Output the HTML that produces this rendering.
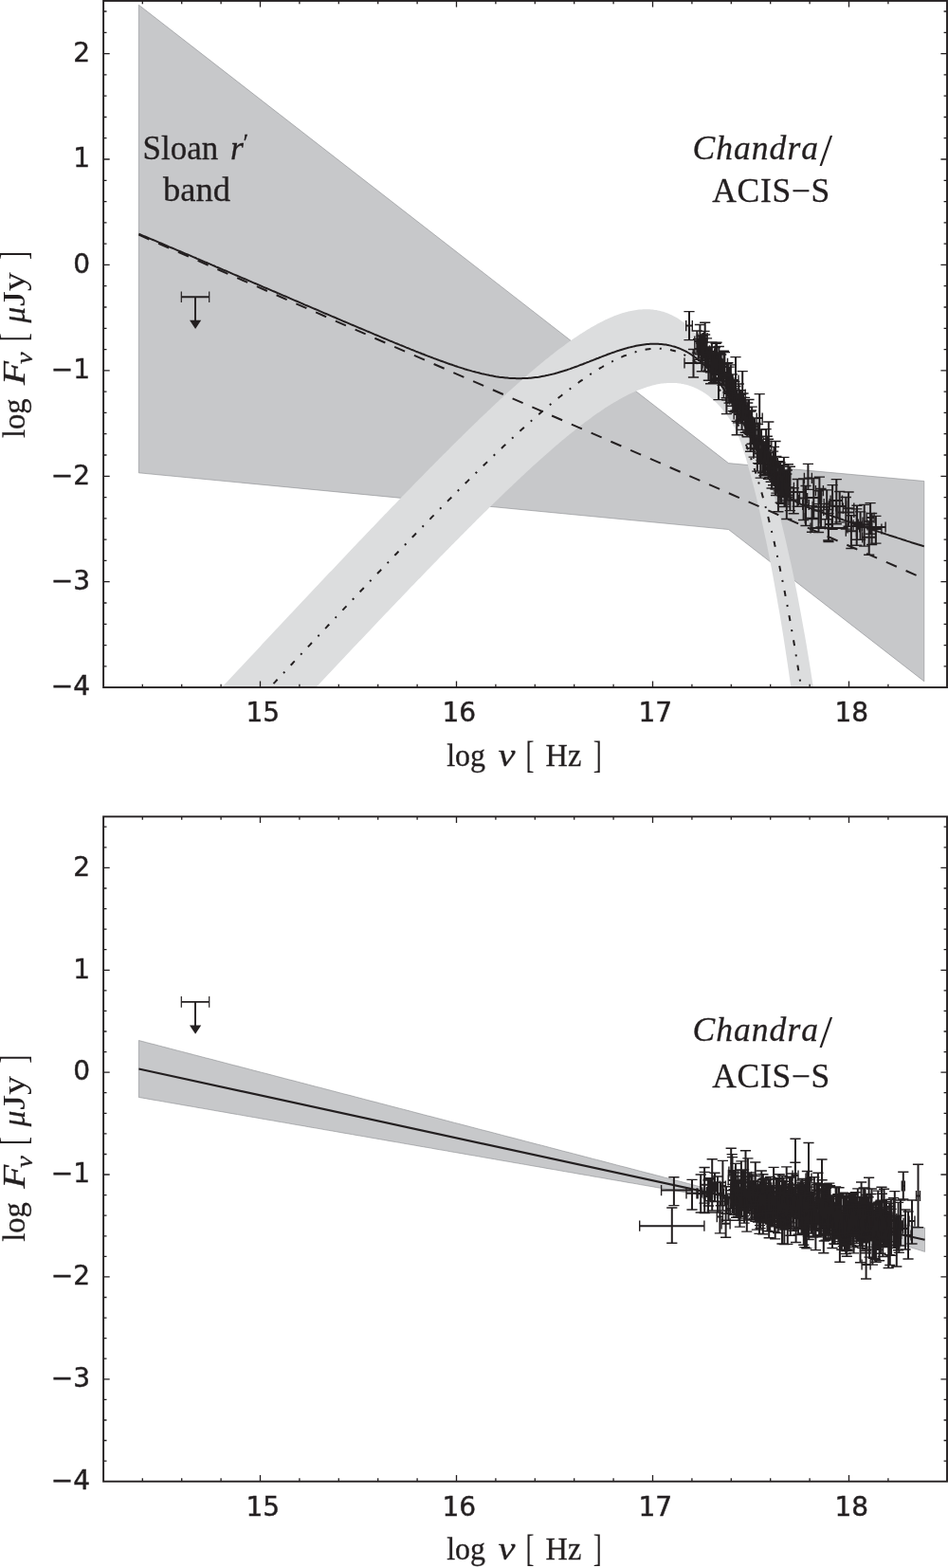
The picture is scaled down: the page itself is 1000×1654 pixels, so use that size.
<!DOCTYPE html>
<html lang="en"><head><meta charset="utf-8"><title>SED</title>
<style>
html,body{margin:0;padding:0;background:#fff}
svg{display:block}
.tk{font-family:"DejaVu Sans",sans-serif;font-size:28px;fill:#231f20;stroke:#231f20;stroke-width:0.45px}
.ax{font-family:"Liberation Serif","DejaVu Serif",serif;font-size:33px;fill:#231f20;stroke:#231f20;stroke-width:0.3px}
.an{font-family:"Liberation Serif","DejaVu Serif",serif;font-size:35.5px;fill:#231f20;stroke:#231f20;stroke-width:0.3px}
.br{stroke-width:0}
</style></head><body>
<svg width="1000" height="1654" viewBox="0 0 1000 1654">
<rect width="1000" height="1654" fill="#fff"/>
<defs><clipPath id="ct"><rect x="109.1" y="0.9" width="889.9" height="724.2"/></clipPath><clipPath id="cb"><rect x="109.1" y="861.4" width="889.9" height="701.3000000000001"/></clipPath></defs>
<g clip-path="url(#ct)">
<polygon points="146.4,5.2 768.5,488.6 974.8,507.5 974.8,718.7 768.5,558.5 146.4,498.8" fill="#c7c8ca" stroke="#8a8c8e" stroke-width="0.6"/>
<polygon points="191.7,770.5 193.1,769.0 194.5,767.5 195.9,765.9 197.3,764.4 198.8,762.9 200.2,761.4 201.6,759.9 203.0,758.4 204.4,756.9 205.8,755.4 207.2,753.8 208.6,752.3 210.0,750.8 211.4,749.3 212.9,747.8 214.3,746.3 215.7,744.8 217.1,743.3 218.5,741.7 219.9,740.2 221.3,738.7 222.7,737.2 224.1,735.7 225.6,734.2 227.0,732.7 228.4,731.2 229.8,729.6 231.2,728.1 232.6,726.6 234.0,725.1 235.4,723.6 236.8,722.1 238.2,720.6 239.7,719.1 241.1,717.6 242.5,716.1 243.9,714.5 245.3,713.0 246.7,711.5 248.1,710.0 249.5,708.5 250.9,707.0 252.3,705.5 253.8,704.0 255.2,702.5 256.6,701.0 258.0,699.4 259.4,697.9 260.8,696.4 262.2,694.9 263.6,693.4 265.0,691.9 266.5,690.4 267.9,688.9 269.3,687.4 270.7,685.9 272.1,684.4 273.5,682.9 274.9,681.4 276.3,679.8 277.7,678.3 279.1,676.8 280.6,675.3 282.0,673.8 283.4,672.3 284.8,670.8 286.2,669.3 287.6,667.8 289.0,666.3 290.4,664.8 291.8,663.3 293.3,661.8 294.7,660.3 296.1,658.8 297.5,657.3 298.9,655.8 300.3,654.3 301.7,652.8 303.1,651.3 304.5,649.8 305.9,648.3 307.4,646.8 308.8,645.3 310.2,643.8 311.6,642.3 313.0,640.8 314.4,639.3 315.8,637.8 317.2,636.3 318.6,634.8 320.0,633.3 321.5,631.8 322.9,630.3 324.3,628.8 325.7,627.3 327.1,625.8 328.5,624.3 329.9,622.8 331.3,621.3 332.7,619.8 334.2,618.3 335.6,616.8 337.0,615.3 338.4,613.8 339.8,612.3 341.2,610.8 342.6,609.3 344.0,607.8 345.4,606.3 346.8,604.8 348.3,603.3 349.7,601.9 351.1,600.4 352.5,598.9 353.9,597.4 355.3,595.9 356.7,594.4 358.1,592.9 359.5,591.4 361.0,589.9 362.4,588.4 363.8,587.0 365.2,585.5 366.6,584.0 368.0,582.5 369.4,581.0 370.8,579.5 372.2,578.0 373.6,576.6 375.1,575.1 376.5,573.6 377.9,572.1 379.3,570.6 380.7,569.2 382.1,567.7 383.5,566.2 384.9,564.7 386.3,563.2 387.7,561.8 389.2,560.3 390.6,558.8 392.0,557.3 393.4,555.9 394.8,554.4 396.2,552.9 397.6,551.4 399.0,550.0 400.4,548.5 401.9,547.0 403.3,545.6 404.7,544.1 406.1,542.6 407.5,541.2 408.9,539.7 410.3,538.2 411.7,536.8 413.1,535.3 414.5,533.8 416.0,532.4 417.4,530.9 418.8,529.5 420.2,528.0 421.6,526.5 423.0,525.1 424.4,523.6 425.8,522.2 427.2,520.7 428.7,519.3 430.1,517.8 431.5,516.4 432.9,514.9 434.3,513.5 435.7,512.0 437.1,510.6 438.5,509.1 439.9,507.7 441.3,506.2 442.8,504.8 444.2,503.4 445.6,501.9 447.0,500.5 448.4,499.0 449.8,497.6 451.2,496.2 452.6,494.7 454.0,493.3 455.4,491.9 456.9,490.5 458.3,489.0 459.7,487.6 461.1,486.2 462.5,484.8 463.9,483.3 465.3,481.9 466.7,480.5 468.1,479.1 469.6,477.7 471.0,476.3 472.4,474.9 473.8,473.5 475.2,472.0 476.6,470.6 478.0,469.2 479.4,467.8 480.8,466.4 482.2,465.0 483.7,463.6 485.1,462.3 486.5,460.9 487.9,459.5 489.3,458.1 490.7,456.7 492.1,455.3 493.5,453.9 494.9,452.6 496.4,451.2 497.8,449.8 499.2,448.4 500.6,447.1 502.0,445.7 503.4,444.4 504.8,443.0 506.2,441.6 507.6,440.3 509.0,438.9 510.5,437.6 511.9,436.2 513.3,434.9 514.7,433.6 516.1,432.2 517.5,430.9 518.9,429.5 520.3,428.2 521.7,426.9 523.1,425.6 524.6,424.3 526.0,422.9 527.4,421.6 528.8,420.3 530.2,419.0 531.6,417.7 533.0,416.4 534.4,415.1 535.8,413.8 537.3,412.6 538.7,411.3 540.1,410.0 541.5,408.7 542.9,407.5 544.3,406.2 545.7,404.9 547.1,403.7 548.5,402.4 549.9,401.2 551.4,399.9 552.8,398.7 554.2,397.5 555.6,396.2 557.0,395.0 558.4,393.8 559.8,392.6 561.2,391.4 562.6,390.2 564.1,389.0 565.5,387.8 566.9,386.6 568.3,385.4 569.7,384.3 571.1,383.1 572.5,381.9 573.9,380.8 575.3,379.6 576.7,378.5 578.2,377.4 579.6,376.2 581.0,375.1 582.4,374.0 583.8,372.9 585.2,371.8 586.6,370.7 588.0,369.6 589.4,368.6 590.8,367.5 592.3,366.4 593.7,365.4 595.1,364.4 596.5,363.3 597.9,362.3 599.3,361.3 600.7,360.3 602.1,359.3 603.5,358.3 605.0,357.3 606.4,356.3 607.8,355.4 609.2,354.4 610.6,353.5 612.0,352.6 613.4,351.7 614.8,350.8 616.2,349.9 617.6,349.0 619.1,348.1 620.5,347.3 621.9,346.4 623.3,345.6 624.7,344.8 626.1,344.0 627.5,343.2 628.9,342.4 630.3,341.6 631.8,340.9 633.2,340.1 634.6,339.4 636.0,338.7 637.4,338.0 638.8,337.3 640.2,336.7 641.6,336.0 643.0,335.4 644.4,334.8 645.9,334.2 647.3,333.6 648.7,333.1 650.1,332.5 651.5,332.0 652.9,331.5 654.3,331.0 655.7,330.6 657.1,330.1 658.5,329.7 660.0,329.3 661.4,329.0 662.8,328.6 664.2,328.3 665.6,328.0 667.0,327.7 668.4,327.4 669.8,327.2 671.2,327.0 672.7,326.8 674.1,326.6 675.5,326.5 676.9,326.4 678.3,326.3 679.7,326.2 681.1,326.2 682.5,326.2 683.9,326.3 685.3,326.3 686.8,326.4 688.2,326.5 689.6,326.7 691.0,326.9 692.4,327.1 693.8,327.4 695.2,327.7 696.6,328.0 698.0,328.4 699.5,328.8 700.9,329.2 702.3,329.7 703.7,330.2 705.1,330.8 706.5,331.4 707.9,332.0 709.3,332.7 710.7,333.4 712.1,334.2 713.6,335.0 715.0,335.8 716.4,336.7 717.8,337.7 719.2,338.7 720.6,339.7 722.0,340.8 723.4,342.0 724.8,343.2 726.2,344.4 727.7,345.7 729.1,347.1 730.5,348.5 731.9,349.9 733.3,351.4 734.7,353.0 736.1,354.7 737.5,356.3 738.9,358.1 740.4,359.9 741.8,361.7 743.2,363.7 744.6,365.6 746.0,367.7 747.4,369.8 748.8,371.9 750.2,374.1 751.6,376.4 753.0,378.7 754.5,381.0 755.9,383.4 757.3,385.8 758.7,388.3 760.1,390.8 761.5,393.3 762.9,395.8 764.3,398.3 765.7,400.8 767.2,403.4 768.6,405.9 770.0,408.4 771.4,411.0 772.8,413.5 774.2,416.0 775.6,418.6 777.0,421.2 778.4,423.8 779.8,426.5 781.3,429.2 782.7,431.9 784.1,434.7 785.5,437.6 786.9,440.5 788.3,443.5 789.7,446.6 791.1,449.8 792.5,453.0 793.9,456.3 795.4,459.7 796.8,463.2 798.2,466.8 799.6,470.5 801.0,474.3 802.4,478.1 803.8,482.1 805.2,486.2 806.6,490.3 808.1,494.6 809.5,498.9 810.9,503.4 812.3,508.0 813.7,512.6 815.1,517.4 816.5,522.3 817.9,527.4 819.3,532.5 820.7,537.7 822.2,543.1 823.6,548.6 825.0,554.2 826.4,559.9 827.8,565.8 829.2,571.8 830.6,577.9 832.0,584.2 833.4,590.6 834.9,597.1 836.3,603.7 837.7,610.6 839.1,617.5 840.5,624.6 841.9,631.8 843.3,639.2 844.7,646.8 846.1,654.5 847.5,662.3 849.0,670.4 850.4,678.6 851.8,686.9 853.2,695.4 854.6,704.1 856.0,713.0 857.4,722.0 858.8,731.2 860.2,740.6 861.6,750.2 863.1,760.0 864.5,769.9 865.9,780.1 867.3,790.4 868.7,801.0 870.1,811.8 871.5,822.7 872.9,833.9 874.3,845.3 875.8,856.9 877.2,868.7 878.6,880.7 880.0,893.0 881.4,905.5 882.8,918.2 884.2,931.2 885.6,944.4 887.0,957.8 888.4,971.5 889.9,985.5 891.3,999.7 892.7,1014.2 894.1,1028.9 895.5,1043.9 895.5,1382.0 894.1,1360.5 892.7,1339.3 891.3,1318.4 889.9,1298.0 888.4,1277.8 887.0,1258.1 885.6,1238.6 884.2,1219.5 882.8,1200.8 881.4,1182.4 880.0,1164.2 878.6,1146.5 877.2,1129.0 875.8,1111.8 874.3,1094.9 872.9,1078.4 871.5,1062.1 870.1,1046.1 868.7,1030.4 867.3,1015.0 865.9,999.8 864.5,985.0 863.1,970.3 861.6,956.0 860.2,941.9 858.8,928.1 857.4,914.5 856.0,901.2 854.6,888.1 853.2,875.2 851.8,862.6 850.4,850.2 849.0,838.0 847.5,826.1 846.1,814.4 844.7,802.9 843.3,791.6 841.9,780.6 840.5,769.7 839.1,759.0 837.7,748.6 836.3,738.3 834.9,728.3 833.4,718.4 832.0,708.7 830.6,699.2 829.2,689.9 827.8,680.8 826.4,671.8 825.0,663.1 823.6,654.4 822.2,646.0 820.7,637.7 819.3,629.6 817.9,621.7 816.5,613.9 815.1,606.3 813.7,598.8 812.3,591.5 810.9,584.3 809.5,577.3 808.1,570.4 806.6,563.7 805.2,557.1 803.8,550.6 802.4,544.3 801.0,538.1 799.6,532.0 798.2,526.1 796.8,520.3 795.4,514.7 793.9,509.1 792.5,503.7 791.1,498.5 789.7,493.4 788.3,488.4 786.9,483.6 785.5,479.0 784.1,474.5 782.7,470.3 781.3,466.3 779.8,462.5 778.4,459.0 777.0,455.8 775.6,452.7 774.2,449.9 772.8,447.3 771.4,444.9 770.0,442.6 768.6,440.5 767.2,438.4 765.7,436.5 764.3,434.6 762.9,432.9 761.5,431.2 760.1,429.6 758.7,428.0 757.3,426.5 755.9,425.1 754.5,423.7 753.0,422.4 751.6,421.1 750.2,419.9 748.8,418.7 747.4,417.6 746.0,416.6 744.6,415.6 743.2,414.6 741.8,413.7 740.4,412.8 738.9,412.0 737.5,411.2 736.1,410.5 734.7,409.8 733.3,409.2 731.9,408.6 730.5,408.0 729.1,407.5 727.7,407.0 726.2,406.5 724.8,406.1 723.4,405.8 722.0,405.4 720.6,405.1 719.2,404.9 717.8,404.6 716.4,404.4 715.0,404.3 713.6,404.1 712.1,404.0 710.7,404.0 709.3,403.9 707.9,403.9 706.5,403.9 705.1,404.0 703.7,404.1 702.3,404.2 700.9,404.3 699.5,404.4 698.0,404.6 696.6,404.8 695.2,405.1 693.8,405.3 692.4,405.6 691.0,405.9 689.6,406.2 688.2,406.6 686.8,407.0 685.3,407.4 683.9,407.8 682.5,408.2 681.1,408.7 679.7,409.2 678.3,409.7 676.9,410.2 675.5,410.7 674.1,411.3 672.7,411.8 671.2,412.4 669.8,413.0 668.4,413.7 667.0,414.3 665.6,414.9 664.2,415.6 662.8,416.3 661.4,417.0 660.0,417.7 658.5,418.5 657.1,419.2 655.7,420.0 654.3,420.8 652.9,421.5 651.5,422.4 650.1,423.2 648.7,424.0 647.3,424.8 645.9,425.7 644.4,426.6 643.0,427.4 641.6,428.3 640.2,429.2 638.8,430.1 637.4,431.1 636.0,432.0 634.6,432.9 633.2,433.9 631.8,434.9 630.3,435.8 628.9,436.8 627.5,437.8 626.1,438.8 624.7,439.8 623.3,440.9 621.9,441.9 620.5,442.9 619.1,444.0 617.6,445.0 616.2,446.1 614.8,447.2 613.4,448.3 612.0,449.4 610.6,450.4 609.2,451.6 607.8,452.7 606.4,453.8 605.0,454.9 603.5,456.0 602.1,457.2 600.7,458.3 599.3,459.5 597.9,460.6 596.5,461.8 595.1,463.0 593.7,464.1 592.3,465.3 590.8,466.5 589.4,467.7 588.0,468.9 586.6,470.1 585.2,471.3 583.8,472.5 582.4,473.8 581.0,475.0 579.6,476.2 578.2,477.5 576.7,478.7 575.3,479.9 573.9,481.2 572.5,482.4 571.1,483.7 569.7,485.0 568.3,486.2 566.9,487.5 565.5,488.8 564.1,490.1 562.6,491.3 561.2,492.6 559.8,493.9 558.4,495.2 557.0,496.5 555.6,497.8 554.2,499.1 552.8,500.4 551.4,501.8 549.9,503.1 548.5,504.4 547.1,505.7 545.7,507.0 544.3,508.4 542.9,509.7 541.5,511.1 540.1,512.4 538.7,513.7 537.3,515.1 535.8,516.4 534.4,517.8 533.0,519.1 531.6,520.5 530.2,521.8 528.8,523.2 527.4,524.6 526.0,525.9 524.6,527.3 523.1,528.7 521.7,530.1 520.3,531.4 518.9,532.8 517.5,534.2 516.1,535.6 514.7,537.0 513.3,538.4 511.9,539.7 510.5,541.1 509.0,542.5 507.6,543.9 506.2,545.3 504.8,546.7 503.4,548.1 502.0,549.5 500.6,550.9 499.2,552.3 497.8,553.8 496.4,555.2 494.9,556.6 493.5,558.0 492.1,559.4 490.7,560.8 489.3,562.3 487.9,563.7 486.5,565.1 485.1,566.5 483.7,567.9 482.2,569.4 480.8,570.8 479.4,572.2 478.0,573.7 476.6,575.1 475.2,576.5 473.8,578.0 472.4,579.4 471.0,580.8 469.6,582.3 468.1,583.7 466.7,585.2 465.3,586.6 463.9,588.1 462.5,589.5 461.1,591.0 459.7,592.4 458.3,593.8 456.9,595.3 455.4,596.7 454.0,598.2 452.6,599.7 451.2,601.1 449.8,602.6 448.4,604.0 447.0,605.5 445.6,606.9 444.2,608.4 442.8,609.9 441.3,611.3 439.9,612.8 438.5,614.2 437.1,615.7 435.7,617.2 434.3,618.6 432.9,620.1 431.5,621.6 430.1,623.0 428.7,624.5 427.2,626.0 425.8,627.5 424.4,628.9 423.0,630.4 421.6,631.9 420.2,633.3 418.8,634.8 417.4,636.3 416.0,637.8 414.5,639.2 413.1,640.7 411.7,642.2 410.3,643.7 408.9,645.2 407.5,646.6 406.1,648.1 404.7,649.6 403.3,651.1 401.9,652.6 400.4,654.0 399.0,655.5 397.6,657.0 396.2,658.5 394.8,660.0 393.4,661.5 392.0,663.0 390.6,664.4 389.2,665.9 387.7,667.4 386.3,668.9 384.9,670.4 383.5,671.9 382.1,673.4 380.7,674.9 379.3,676.3 377.9,677.8 376.5,679.3 375.1,680.8 373.6,682.3 372.2,683.8 370.8,685.3 369.4,686.8 368.0,688.3 366.6,689.8 365.2,691.3 363.8,692.8 362.4,694.3 361.0,695.8 359.5,697.3 358.1,698.7 356.7,700.2 355.3,701.7 353.9,703.2 352.5,704.7 351.1,706.2 349.7,707.7 348.3,709.2 346.8,710.7 345.4,712.2 344.0,713.7 342.6,715.2 341.2,716.7 339.8,718.2 338.4,719.7 337.0,721.2 335.6,722.7 334.2,724.2 332.7,725.7 331.3,727.2 329.9,728.7 328.5,730.2 327.1,731.7 325.7,733.2 324.3,734.8 322.9,736.3 321.5,737.8 320.0,739.3 318.6,740.8 317.2,742.3 315.8,743.8 314.4,745.3 313.0,746.8 311.6,748.3 310.2,749.8 308.8,751.3 307.4,752.8 305.9,754.3 304.5,755.8 303.1,757.3 301.7,758.8 300.3,760.3 298.9,761.8 297.5,763.4 296.1,764.9 294.7,766.4 293.3,767.9 291.8,769.4 290.4,770.9 289.0,772.4 287.6,773.9 286.2,775.4 284.8,776.9 283.4,778.4 282.0,779.9 280.6,781.4 279.1,783.0 277.7,784.5 276.3,786.0 274.9,787.5 273.5,789.0 272.1,790.5 270.7,792.0 269.3,793.5 267.9,795.0 266.5,796.5 265.0,798.1 263.6,799.6 262.2,801.1 260.8,802.6 259.4,804.1 258.0,805.6 256.6,807.1 255.2,808.6 253.8,810.1 252.3,811.7 250.9,813.2 249.5,814.7 248.1,816.2 246.7,817.7 245.3,819.2 243.9,820.7 242.5,822.2 241.1,823.8 239.7,825.3 238.2,826.8 236.8,828.3 235.4,829.8 234.0,831.3 232.6,832.8 231.2,834.3 229.8,835.9 228.4,837.4 227.0,838.9 225.6,840.4 224.1,841.9 222.7,843.4 221.3,844.9 219.9,846.4 218.5,848.0 217.1,849.5 215.7,851.0 214.3,852.5 212.9,854.0 211.4,855.5 210.0,857.0 208.6,858.6 207.2,860.1 205.8,861.6 204.4,863.1 203.0,864.6 201.6,866.1 200.2,867.6 198.8,869.2 197.3,870.7 195.9,872.2 194.5,873.7 193.1,875.2 191.7,876.7" fill="#dcddde"/>
<line x1="146.4" y1="247.7" x2="974.8" y2="610.4" stroke="#231f20" stroke-width="2" stroke-dasharray="12 10.65"/>
<polyline points="283.2,726.8 284.2,725.8 285.1,724.8 286.1,723.7 287.1,722.7 288.0,721.7 289.0,720.6 290.0,719.6 290.9,718.6 291.9,717.5 292.9,716.5 293.9,715.5 294.8,714.4 295.8,713.4 296.8,712.4 297.7,711.3 298.7,710.3 299.7,709.3 300.6,708.2 301.6,707.2 302.6,706.2 303.5,705.1 304.5,704.1 305.5,703.1 306.4,702.0 307.4,701.0 308.4,700.0 309.3,698.9 310.3,697.9 311.3,696.9 312.2,695.8 313.2,694.8 314.2,693.8 315.1,692.7 316.1,691.7 317.1,690.7 318.0,689.7 319.0,688.6 320.0,687.6 320.9,686.6 321.9,685.5 322.9,684.5 323.8,683.5 324.8,682.4 325.8,681.4 326.8,680.4 327.7,679.4 328.7,678.3 329.7,677.3 330.6,676.3 331.6,675.2 332.6,674.2 333.5,673.2 334.5,672.2 335.5,671.1 336.4,670.1 337.4,669.1 338.4,668.1 339.3,667.0 340.3,666.0 341.3,665.0 342.2,663.9 343.2,662.9 344.2,661.9 345.1,660.9 346.1,659.8 347.1,658.8 348.0,657.8 349.0,656.8 350.0,655.7 350.9,654.7 351.9,653.7 352.9,652.7 353.8,651.6 354.8,650.6 355.8,649.6 356.7,648.6 357.7,647.5 358.7,646.5 359.6,645.5 360.6,644.5 361.6,643.4 362.6,642.4 363.5,641.4 364.5,640.4 365.5,639.4 366.4,638.3 367.4,637.3 368.4,636.3 369.3,635.3 370.3,634.2 371.3,633.2 372.2,632.2 373.2,631.2 374.2,630.2 375.1,629.1 376.1,628.1 377.1,627.1 378.0,626.1 379.0,625.1 380.0,624.0 380.9,623.0 381.9,622.0 382.9,621.0 383.8,620.0 384.8,618.9 385.8,617.9 386.7,616.9 387.7,615.9 388.7,614.9 389.6,613.9 390.6,612.8 391.6,611.8 392.5,610.8 393.5,609.8 394.5,608.8 395.5,607.8 396.4,606.8 397.4,605.7 398.4,604.7 399.3,603.7 400.3,602.7 401.3,601.7 402.2,600.7 403.2,599.7 404.2,598.7 405.1,597.6 406.1,596.6 407.1,595.6 408.0,594.6 409.0,593.6 410.0,592.6 410.9,591.6 411.9,590.6 412.9,589.6 413.8,588.6 414.8,587.5 415.8,586.5 416.7,585.5 417.7,584.5 418.7,583.5 419.6,582.5 420.6,581.5 421.6,580.5 422.5,579.5 423.5,578.5 424.5,577.5 425.4,576.5 426.4,575.5 427.4,574.5 428.4,573.5 429.3,572.5 430.3,571.5 431.3,570.5 432.2,569.5 433.2,568.5 434.2,567.5 435.1,566.5 436.1,565.5 437.1,564.5 438.0,563.5 439.0,562.5 440.0,561.5 440.9,560.5 441.9,559.5 442.9,558.5 443.8,557.5 444.8,556.5 445.8,555.5 446.7,554.5 447.7,553.5 448.7,552.5 449.6,551.5 450.6,550.5 451.6,549.6 452.5,548.6 453.5,547.6 454.5,546.6 455.4,545.6 456.4,544.6 457.4,543.6 458.3,542.6 459.3,541.6 460.3,540.7 461.2,539.7 462.2,538.7 463.2,537.7 464.2,536.7 465.1,535.7 466.1,534.8 467.1,533.8 468.0,532.8 469.0,531.8 470.0,530.8 470.9,529.9 471.9,528.9 472.9,527.9 473.8,526.9 474.8,526.0 475.8,525.0 476.7,524.0 477.7,523.0 478.7,522.1 479.6,521.1 480.6,520.1 481.6,519.2 482.5,518.2 483.5,517.2 484.5,516.3 485.4,515.3 486.4,514.3 487.4,513.4 488.3,512.4 489.3,511.4 490.3,510.5 491.2,509.5 492.2,508.6 493.2,507.6 494.1,506.6 495.1,505.7 496.1,504.7 497.1,503.8 498.0,502.8 499.0,501.9 500.0,500.9 500.9,500.0 501.9,499.0 502.9,498.1 503.8,497.1 504.8,496.2 505.8,495.2 506.7,494.3 507.7,493.3 508.7,492.4 509.6,491.4 510.6,490.5 511.6,489.6 512.5,488.6 513.5,487.7 514.5,486.8 515.4,485.8 516.4,484.9 517.4,484.0 518.3,483.0 519.3,482.1 520.3,481.2 521.2,480.2 522.2,479.3 523.2,478.4 524.1,477.5 525.1,476.5 526.1,475.6 527.0,474.7 528.0,473.8 529.0,472.9 529.9,472.0 530.9,471.0 531.9,470.1 532.9,469.2 533.8,468.3 534.8,467.4 535.8,466.5 536.7,465.6 537.7,464.7 538.7,463.8 539.6,462.9 540.6,462.0 541.6,461.1 542.5,460.2 543.5,459.3 544.5,458.4 545.4,457.5 546.4,456.7 547.4,455.8 548.3,454.9 549.3,454.0 550.3,453.1 551.2,452.2 552.2,451.4 553.2,450.5 554.1,449.6 555.1,448.8 556.1,447.9 557.0,447.0 558.0,446.2 559.0,445.3 559.9,444.4 560.9,443.6 561.9,442.7 562.8,441.9 563.8,441.0 564.8,440.2 565.8,439.3 566.7,438.5 567.7,437.6 568.7,436.8 569.6,436.0 570.6,435.1 571.6,434.3 572.5,433.5 573.5,432.6 574.5,431.8 575.4,431.0 576.4,430.2 577.4,429.4 578.3,428.6 579.3,427.7 580.3,426.9 581.2,426.1 582.2,425.3 583.2,424.5 584.1,423.7 585.1,422.9 586.1,422.2 587.0,421.4 588.0,420.6 589.0,419.8 589.9,419.0 590.9,418.3 591.9,417.5 592.8,416.7 593.8,415.9 594.8,415.2 595.7,414.4 596.7,413.7 597.7,412.9 598.7,412.2 599.6,411.4 600.6,410.7 601.6,410.0 602.5,409.2 603.5,408.5 604.5,407.8 605.4,407.1 606.4,406.3 607.4,405.6 608.3,404.9 609.3,404.2 610.3,403.5 611.2,402.8 612.2,402.1 613.2,401.4 614.1,400.8 615.1,400.1 616.1,399.4 617.0,398.7 618.0,398.1 619.0,397.4 619.9,396.8 620.9,396.1 621.9,395.5 622.8,394.8 623.8,394.2 624.8,393.6 625.7,392.9 626.7,392.3 627.7,391.7 628.6,391.1 629.6,390.5 630.6,389.9 631.5,389.3 632.5,388.7 633.5,388.1 634.5,387.5 635.4,387.0 636.4,386.4 637.4,385.9 638.3,385.3 639.3,384.8 640.3,384.2 641.2,383.7 642.2,383.2 643.2,382.7 644.1,382.1 645.1,381.6 646.1,381.1 647.0,380.6 648.0,380.2 649.0,379.7 649.9,379.2 650.9,378.8 651.9,378.3 652.8,377.9 653.8,377.4 654.8,377.0 655.7,376.6 656.7,376.2 657.7,375.7 658.6,375.3 659.6,375.0 660.6,374.6 661.5,374.2 662.5,373.8 663.5,373.5 664.4,373.1 665.4,372.8 666.4,372.5 667.4,372.2 668.3,371.8 669.3,371.5 670.3,371.3 671.2,371.0 672.2,370.7 673.2,370.4 674.1,370.2 675.1,370.0 676.1,369.7 677.0,369.5 678.0,369.3 679.0,369.1 679.9,368.9 680.9,368.8 681.9,368.6 682.8,368.4 683.8,368.3 684.8,368.2 685.7,368.1 686.7,368.0 687.7,367.9 688.6,367.8 689.6,367.7 690.6,367.7 691.5,367.7 692.5,367.6 693.5,367.6 694.4,367.6 695.4,367.6 696.4,367.7 697.3,367.7 698.3,367.8 699.3,367.9 700.2,368.0 701.2,368.1 702.2,368.2 703.2,368.3 704.1,368.5 705.1,368.6 706.1,368.8 707.0,369.0 708.0,369.2 709.0,369.5 709.9,369.7 710.9,370.0 711.9,370.3 712.8,370.6 713.8,370.9 714.8,371.3 715.7,371.6 716.7,372.0 717.7,372.4 718.6,372.8 719.6,373.2 720.6,373.7 721.5,374.2 722.5,374.7 723.5,375.2 724.4,375.7 725.4,376.3 726.4,376.9 727.3,377.5 728.3,378.1 729.3,378.7 730.2,379.4 731.2,380.1 732.2,380.8 733.1,381.5 734.1,382.3 735.1,383.1 736.1,383.9 737.0,384.7 738.0,385.6 739.0,386.4 739.9,387.3 740.9,388.3 741.9,389.2 742.8,390.2 743.8,391.2 744.8,392.3 745.7,393.3 746.7,394.4 747.7,395.5 748.6,396.7 749.6,397.9 750.6,399.1 751.5,400.3 752.5,401.6 753.5,402.9 754.4,404.2 755.4,405.5 756.4,406.9 757.3,408.3 758.3,409.8 759.3,411.3 760.2,412.8 761.2,414.3 762.2,415.9 763.1,417.5 764.1,419.2 765.1,420.8 766.0,422.5 767.0,424.3 768.0,426.1 769.0,427.9 769.9,429.8 770.9,431.6 771.9,433.6 772.8,435.5 773.8,437.6 774.8,439.6 775.7,441.7 776.7,443.8 777.7,446.0 778.6,448.2 779.6,450.4 780.6,452.7 781.5,455.0 782.5,457.4 783.5,459.8 784.4,462.2 785.4,464.7 786.4,467.3 787.3,469.9 788.3,472.5 789.3,475.2 790.2,477.9 791.2,480.6 792.2,483.5 793.1,486.3 794.1,489.2 795.1,492.2 796.0,495.2 797.0,498.2 798.0,501.3 798.9,504.5 799.9,507.7 800.9,510.9 801.8,514.3 802.8,517.6 803.8,521.0 804.8,524.5 805.7,528.0 806.7,531.6 807.7,535.2 808.6,538.9 809.6,542.7 810.6,546.5 811.5,550.3 812.5,554.2 813.5,558.2 814.4,562.3 815.4,566.4 816.4,570.5 817.3,574.8 818.3,579.0 819.3,583.4 820.2,587.8 821.2,592.3 822.2,596.8 823.1,601.4 824.1,606.1 825.1,610.8 826.0,615.7 827.0,620.5 828.0,625.5 828.9,630.5 829.9,635.6 830.9,640.8 831.8,646.0 832.8,651.3 833.8,656.7 834.7,662.2 835.7,667.7 836.7,673.3 837.7,679.0 838.6,684.8 839.6,690.6 840.6,696.5 841.5,702.5 842.5,708.6 843.5,714.8 844.4,721.1" fill="none" stroke="#231f20" stroke-width="2" stroke-dasharray="6 9.3 2 9.3" stroke-dashoffset="18.84"/>
<polyline points="146.4,246.7 148.1,247.4 149.7,248.1 151.4,248.8 153.0,249.5 154.7,250.2 156.4,250.9 158.0,251.6 159.7,252.3 161.3,253.0 163.0,253.7 164.7,254.4 166.3,255.1 168.0,255.8 169.6,256.5 171.3,257.2 173.0,257.9 174.6,258.6 176.3,259.3 177.9,260.1 179.6,260.8 181.3,261.5 182.9,262.2 184.6,262.9 186.2,263.6 187.9,264.3 189.6,265.0 191.2,265.7 192.9,266.4 194.5,267.1 196.2,267.8 197.9,268.5 199.5,269.2 201.2,269.9 202.8,270.6 204.5,271.3 206.2,272.0 207.8,272.8 209.5,273.5 211.1,274.2 212.8,274.9 214.5,275.6 216.1,276.3 217.8,277.0 219.4,277.7 221.1,278.4 222.8,279.1 224.4,279.8 226.1,280.5 227.7,281.3 229.4,282.0 231.1,282.7 232.7,283.4 234.4,284.1 236.0,284.8 237.7,285.5 239.4,286.2 241.0,286.9 242.7,287.6 244.3,288.3 246.0,289.1 247.7,289.8 249.3,290.5 251.0,291.2 252.6,291.9 254.3,292.6 256.0,293.3 257.6,294.0 259.3,294.7 260.9,295.4 262.6,296.2 264.3,296.9 265.9,297.6 267.6,298.3 269.2,299.0 270.9,299.7 272.6,300.4 274.2,301.1 275.9,301.8 277.5,302.6 279.2,303.3 280.9,304.0 282.5,304.7 284.2,305.4 285.9,306.1 287.5,306.8 289.2,307.5 290.8,308.2 292.5,309.0 294.2,309.7 295.8,310.4 297.5,311.1 299.1,311.8 300.8,312.5 302.5,313.2 304.1,313.9 305.8,314.7 307.4,315.4 309.1,316.1 310.8,316.8 312.4,317.5 314.1,318.2 315.7,318.9 317.4,319.6 319.1,320.3 320.7,321.1 322.4,321.8 324.0,322.5 325.7,323.2 327.4,323.9 329.0,324.6 330.7,325.3 332.3,326.0 334.0,326.7 335.7,327.4 337.3,328.2 339.0,328.9 340.6,329.6 342.3,330.3 344.0,331.0 345.6,331.7 347.3,332.4 348.9,333.1 350.6,333.8 352.3,334.5 353.9,335.2 355.6,336.0 357.2,336.7 358.9,337.4 360.6,338.1 362.2,338.8 363.9,339.5 365.5,340.2 367.2,340.9 368.9,341.6 370.5,342.3 372.2,343.0 373.8,343.7 375.5,344.4 377.2,345.1 378.8,345.8 380.5,346.5 382.1,347.2 383.8,347.9 385.5,348.6 387.1,349.3 388.8,350.0 390.4,350.7 392.1,351.4 393.8,352.1 395.4,352.8 397.1,353.5 398.7,354.2 400.4,354.9 402.1,355.6 403.7,356.3 405.4,357.0 407.0,357.7 408.7,358.4 410.4,359.1 412.0,359.8 413.7,360.4 415.3,361.1 417.0,361.8 418.7,362.5 420.3,363.2 422.0,363.9 423.6,364.5 425.3,365.2 427.0,365.9 428.6,366.6 430.3,367.2 431.9,367.9 433.6,368.6 435.3,369.2 436.9,369.9 438.6,370.6 440.2,371.2 441.9,371.9 443.6,372.5 445.2,373.2 446.9,373.8 448.5,374.5 450.2,375.1 451.9,375.8 453.5,376.4 455.2,377.0 456.8,377.6 458.5,378.3 460.2,378.9 461.8,379.5 463.5,380.1 465.1,380.7 466.8,381.3 468.5,381.9 470.1,382.5 471.8,383.1 473.4,383.7 475.1,384.3 476.8,384.8 478.4,385.4 480.1,386.0 481.7,386.5 483.4,387.1 485.1,387.6 486.7,388.1 488.4,388.6 490.0,389.2 491.7,389.7 493.4,390.2 495.0,390.6 496.7,391.1 498.3,391.6 500.0,392.0 501.7,392.5 503.3,392.9 505.0,393.3 506.6,393.8 508.3,394.2 510.0,394.5 511.6,394.9 513.3,395.3 514.9,395.6 516.6,396.0 518.3,396.3 519.9,396.6 521.6,396.9 523.2,397.2 524.9,397.4 526.6,397.7 528.2,397.9 529.9,398.1 531.5,398.3 533.2,398.5 534.9,398.6 536.5,398.8 538.2,398.9 539.8,399.0 541.5,399.1 543.2,399.1 544.8,399.2 546.5,399.2 548.1,399.2 549.8,399.2 551.5,399.1 553.1,399.1 554.8,399.0 556.4,398.9 558.1,398.8 559.8,398.7 561.4,398.5 563.1,398.3 564.8,398.1 566.4,397.9 568.1,397.7 569.7,397.4 571.4,397.1 573.1,396.8 574.7,396.5 576.4,396.1 578.0,395.8 579.7,395.4 581.4,395.0 583.0,394.6 584.7,394.2 586.3,393.7 588.0,393.3 589.7,392.8 591.3,392.3 593.0,391.8 594.6,391.3 596.3,390.7 598.0,390.2 599.6,389.6 601.3,389.1 602.9,388.5 604.6,387.9 606.3,387.3 607.9,386.7 609.6,386.1 611.2,385.4 612.9,384.8 614.6,384.2 616.2,383.5 617.9,382.9 619.5,382.2 621.2,381.6 622.9,380.9 624.5,380.3 626.2,379.6 627.8,379.0 629.5,378.3 631.2,377.7 632.8,377.0 634.5,376.4 636.1,375.7 637.8,375.1 639.5,374.5 641.1,373.8 642.8,373.2 644.4,372.6 646.1,372.0 647.8,371.5 649.4,370.9 651.1,370.3 652.7,369.8 654.4,369.2 656.1,368.7 657.7,368.2 659.4,367.7 661.0,367.3 662.7,366.8 664.4,366.4 666.0,366.0 667.7,365.6 669.3,365.2 671.0,364.8 672.7,364.5 674.3,364.2 676.0,363.9 677.6,363.7 679.3,363.5 681.0,363.3 682.6,363.1 684.3,362.9 685.9,362.8 687.6,362.8 689.3,362.7 690.9,362.7 692.6,362.7 694.2,362.8 695.9,362.9 697.6,363.0 699.2,363.2 700.9,363.4 702.5,363.6 704.2,363.9 705.9,364.3 707.5,364.6 709.2,365.1 710.8,365.5 712.5,366.0 714.2,366.6 715.8,367.2 717.5,367.9 719.1,368.6 720.8,369.3 722.5,370.2 724.1,371.0 725.8,372.0 727.4,372.9 729.1,374.0 730.8,375.1 732.4,376.3 734.1,377.5 735.7,378.8 737.4,380.1 739.1,381.5 740.7,383.0 742.4,384.6 744.0,386.2 745.7,387.9 747.4,389.6 749.0,391.4 750.7,393.3 752.3,395.3 754.0,397.3 755.7,399.4 757.3,401.6 759.0,403.9 760.6,406.2 762.3,408.6 764.0,411.1 765.6,413.6 767.3,416.3 768.9,419.0 770.6,421.7 772.3,424.5 773.9,427.4 775.6,430.4 777.2,433.4 778.9,436.5 780.6,439.7 782.2,442.8 783.9,446.1 785.5,449.4 787.2,452.7 788.9,456.0 790.5,459.4 792.2,462.8 793.8,466.1 795.5,469.5 797.2,472.9 798.8,476.2 800.5,479.5 802.1,482.8 803.8,486.0 805.5,489.1 807.1,492.2 808.8,495.2 810.4,498.0 812.1,500.8 813.8,503.4 815.4,505.9 817.1,508.3 818.7,510.6 820.4,512.7 822.1,514.7 823.7,516.6 825.4,518.4 827.0,520.0 828.7,521.5 830.4,522.9 832.0,524.3 833.7,525.5 835.3,526.6 837.0,527.7 838.7,528.7 840.3,529.6 842.0,530.5 843.7,531.3 845.3,532.1 847.0,532.9 848.6,533.6 850.3,534.3 852.0,535.0 853.6,535.6 855.3,536.3 856.9,536.9 858.6,537.5 860.3,538.1 861.9,538.7 863.6,539.3 865.2,539.9 866.9,540.5 868.6,541.1 870.2,541.7 871.9,542.3 873.5,542.9 875.2,543.4 876.9,544.0 878.5,544.6 880.2,545.2 881.8,545.7 883.5,546.3 885.2,546.9 886.8,547.4 888.5,548.0 890.1,548.6 891.8,549.1 893.5,549.7 895.1,550.3 896.8,550.8 898.4,551.4 900.1,552.0 901.8,552.5 903.4,553.1 905.1,553.7 906.7,554.2 908.4,554.8 910.1,555.3 911.7,555.9 913.4,556.4 915.0,557.0 916.7,557.5 918.4,558.1 920.0,558.7 921.7,559.2 923.3,559.8 925.0,560.3 926.7,560.9 928.3,561.4 930.0,561.9 931.6,562.5 933.3,563.0 935.0,563.6 936.6,564.1 938.3,564.7 939.9,565.2 941.6,565.7 943.3,566.3 944.9,566.8 946.6,567.4 948.2,567.9 949.9,568.4 951.6,569.0 953.2,569.5 954.9,570.0 956.5,570.6 958.2,571.1 959.9,571.6 961.5,572.2 963.2,572.7 964.8,573.2 966.5,573.7 968.2,574.3 969.8,574.8 971.5,575.3 973.1,575.8 974.8,576.4" fill="none" stroke="#231f20" stroke-width="2"/>
<path d="M727.0 328.6V358.6M723.7 343.6H730.3M731.5 368.5V398.0M722.0 383.0H741.0M874.0 541.5V571.5M855.0 557.0H894.0M919.6 541.5V574.5M906.6 556.0H934.1M904.0 533.2V569.2M898.0 551.2H910.0M852.4 489.4V516.4M848.4 504.4H856.4M864.4 503.1V531.6M860.4 517.6H868.4M776.0 376.6V425.0M773.0 401.0H779.0M783.2 391.6V440.0M780.2 416.0H786.2M801.2 415.6V466.0M798.2 441.0H804.2M810.8 445.0V495.0M807.8 470.0H813.8M818.0 465.5V516.0M815.0 491.0H821.0M743.6 353.0V391.6M740.6 372.0H746.6M749.6 366.0V404.8M746.6 385.0H752.6M758.0 379.0V421.6M755.0 400.0H761.0M766.4 394.0V436.6M763.4 415.0H769.4M777.2 416.0V458.8M774.2 437.0H780.2M791.6 434.0V476.3M788.6 455.0H794.6M735.3 349.0V372.1M732.8 360.0H737.8M736.6 357.7V379.2M732.8 367.9H740.3M738.4 342.5V373.8M735.8 357.4H741.0M739.5 362.0V382.4M737.0 371.7H741.9M740.3 354.0V391.8M737.4 371.9H743.2M741.5 354.9V380.2M737.5 366.9H745.4M743.0 349.4V377.2M740.7 362.6H745.3M743.7 340.3V374.8M741.3 356.7H746.1M745.5 356.9V384.2M742.5 369.9H748.5M747.1 366.2V392.1M744.5 378.5H749.6M747.4 371.9V401.3M743.7 385.9H751.2M749.5 371.4V392.8M745.7 381.6H753.3M750.4 370.5V404.9M746.6 386.8H754.2M750.9 361.0V387.9M748.1 373.8H753.6M752.5 373.2V403.6M750.5 387.7H754.5M754.3 366.6V403.5M752.1 384.1H756.4M755.2 362.3V392.2M751.7 376.5H758.8M756.0 361.2V395.2M753.5 377.4H758.6M757.7 372.5V400.1M754.2 385.6H761.3M758.3 365.5V404.6M754.6 384.1H762.0M759.3 371.9V398.6M755.6 384.6H763.1M760.7 374.0V401.8M758.5 387.2H762.8M762.1 384.6V406.3M759.9 395.0H764.3M763.5 370.2V405.9M759.7 387.1H767.2M764.4 371.6V396.5M761.4 383.4H767.5M766.3 395.0V419.8M764.0 406.8H768.6M766.8 383.2V422.1M762.8 401.7H770.7M767.9 382.7V414.0M765.5 397.6H770.2M769.1 387.1V425.1M765.6 405.1H772.5M770.9 384.9V424.8M767.9 403.8H773.9M772.4 394.9V428.3M770.2 410.7H774.6M773.3 410.0V433.6M769.5 421.2H777.1M774.9 402.5V434.7M772.6 417.8H777.3M775.9 407.5V433.0M772.1 419.7H779.6M777.3 415.6V444.4M773.3 429.3H781.3M778.6 417.8V445.9M775.8 431.2H781.3M779.3 405.0V429.9M775.8 416.9H782.8M781.0 411.8V443.2M778.1 426.7H783.9M781.7 416.1V446.6M778.1 430.6H785.2M782.6 419.3V453.4M780.5 435.5H784.7M784.0 415.0V441.7M780.1 427.7H788.0M785.5 419.4V446.4M783.5 432.2H787.6M786.3 421.4V456.3M783.6 438.0H789.0M788.2 429.7V460.8M785.9 444.5H790.6M788.7 425.0V455.0M786.2 439.2H791.1M790.0 421.5V457.4M787.0 438.6H792.9M791.1 433.0V458.5M787.9 445.1H794.3M792.4 433.0V472.8M788.5 451.9H796.4M793.2 429.1V468.3M790.2 447.7H796.2M795.2 449.7V482.1M792.1 465.1H798.2M796.0 441.0V467.5M792.8 453.6H799.2M796.9 446.2V474.1M794.3 459.5H799.5M798.8 461.4V497.1M794.9 478.3H802.7M799.5 447.5V488.6M795.8 467.0H803.1M800.8 461.9V489.4M798.4 474.9H803.3M802.2 473.9V504.1M798.8 488.2H805.6M803.1 453.1V485.6M801.1 468.5H805.1M804.4 468.8V498.7M801.7 483.0H807.1M805.9 466.0V501.7M802.3 483.0H809.5M807.1 467.4V500.5M803.6 483.1H810.7M808.1 452.6V486.9M804.6 468.9H811.6M809.3 460.2V500.6M806.4 479.4H812.2M810.5 463.2V505.4M807.6 483.2H813.4M811.7 477.6V503.7M808.1 490.0H815.3M813.2 481.1V508.2M810.6 494.0H815.7M814.1 481.4V515.0M811.2 497.4H816.9M815.6 476.1V511.8M812.1 493.0H819.1M816.5 471.4V506.4M812.7 488.0H820.4M818.5 493.5V522.5M816.3 507.3H820.6M818.9 481.5V520.1M816.4 499.8H821.4M820.9 497.4V539.7M817.6 517.5H824.3M821.3 486.7V517.9M818.9 501.5H823.7M823.2 487.9V530.3M820.9 508.0H825.5M824.3 502.0V531.3M820.5 515.9H828.0M825.0 490.6V523.0M822.2 506.0H827.8M826.9 482.4V524.2M824.1 502.3H829.6M827.5 495.9V534.5M824.2 514.3H830.7M828.5 496.3V534.4M825.4 514.4H831.5M830.3 496.0V527.9M827.6 511.1H833.1M831.4 489.8V524.6M829.4 506.3H833.5M829.8 500.0V547.5M822.9 522.6H836.8M833.4 492.3V538.6M829.3 514.3H837.4M837.2 514.7V541.7M831.9 527.5H842.4M841.3 505.5V534.2M833.6 519.1H848.9M847.6 504.9V548.5M843.5 525.6H851.6M850.0 512.5V554.5M846.7 532.4H853.3M856.5 533.7V561.2M849.2 546.7H863.8M858.3 504.5V547.5M850.0 524.9H866.6M863.5 517.6V561.5M858.2 538.5H868.8M866.0 515.5V555.9M857.2 534.7H874.8M872.2 516.9V547.8M869.2 531.5H875.2M873.8 537.5V570.0M870.4 552.9H877.2M878.1 511.6V558.4M874.2 533.8H882.0M882.3 505.6V552.8M876.1 528.0H888.5M885.7 518.5V550.9M878.7 533.9H892.7M892.3 524.5V558.1M883.9 540.5H900.8M895.1 519.0V555.2M889.3 536.2H900.8M897.9 543.7V578.5M892.3 560.2H903.5M903.7 536.9V575.3M897.9 555.1H909.5M907.6 539.9V569.2M900.1 553.8H915.0M911.7 532.4V576.1M905.3 553.2H918.2M916.7 550.0V585.2M909.7 566.8H923.6M918.1 530.6V563.3M914.1 546.1H922.1M923.9 544.4V573.1M917.9 558.0H929.9" fill="none" stroke="#231f20" stroke-width="2"/><path d="M721.4 328.6h11.2M721.4 358.6h11.2M723.7 338.0v11.2M730.3 338.0v11.2M725.9 368.5h11.2M725.9 398.0h11.2M722.0 377.4v11.2M741.0 377.4v11.2M868.4 541.5h11.2M868.4 571.5h11.2M855.0 551.4v11.2M894.0 551.4v11.2M914.0 541.5h11.2M914.0 574.5h11.2M906.6 550.4v11.2M934.1 550.4v11.2M898.4 533.2h11.2M898.4 569.2h11.2M898.0 545.6v11.2M910.0 545.6v11.2M846.8 489.4h11.2M846.8 516.4h11.2M848.4 498.8v11.2M856.4 498.8v11.2M858.8 503.1h11.2M858.8 531.6h11.2M860.4 512.0v11.2M868.4 512.0v11.2M770.4 376.6h11.2M770.4 425.0h11.2M773.0 395.4v11.2M779.0 395.4v11.2M777.6 391.6h11.2M777.6 440.0h11.2M780.2 410.4v11.2M786.2 410.4v11.2M795.6 415.6h11.2M795.6 466.0h11.2M798.2 435.4v11.2M804.2 435.4v11.2M805.2 445.0h11.2M805.2 495.0h11.2M807.8 464.4v11.2M813.8 464.4v11.2M812.4 465.5h11.2M812.4 516.0h11.2M815.0 485.4v11.2M821.0 485.4v11.2M738.0 353.0h11.2M738.0 391.6h11.2M740.6 366.4v11.2M746.6 366.4v11.2M744.0 366.0h11.2M744.0 404.8h11.2M746.6 379.4v11.2M752.6 379.4v11.2M752.4 379.0h11.2M752.4 421.6h11.2M755.0 394.4v11.2M761.0 394.4v11.2M760.8 394.0h11.2M760.8 436.6h11.2M763.4 409.4v11.2M769.4 409.4v11.2M771.6 416.0h11.2M771.6 458.8h11.2M774.2 431.4v11.2M780.2 431.4v11.2M786.0 434.0h11.2M786.0 476.3h11.2M788.6 449.4v11.2M794.6 449.4v11.2M729.7 349.0h11.2M729.7 372.1h11.2M732.8 354.4v11.2M737.8 354.4v11.2M731.0 357.7h11.2M731.0 379.2h11.2M732.8 362.3v11.2M740.3 362.3v11.2M732.8 342.5h11.2M732.8 373.8h11.2M735.8 351.8v11.2M741.0 351.8v11.2M733.9 362.0h11.2M733.9 382.4h11.2M737.0 366.1v11.2M741.9 366.1v11.2M734.7 354.0h11.2M734.7 391.8h11.2M737.4 366.3v11.2M743.2 366.3v11.2M735.9 354.9h11.2M735.9 380.2h11.2M737.5 361.3v11.2M745.4 361.3v11.2M737.4 349.4h11.2M737.4 377.2h11.2M740.7 357.0v11.2M745.3 357.0v11.2M738.1 340.3h11.2M738.1 374.8h11.2M741.3 351.1v11.2M746.1 351.1v11.2M739.9 356.9h11.2M739.9 384.2h11.2M742.5 364.3v11.2M748.5 364.3v11.2M741.5 366.2h11.2M741.5 392.1h11.2M744.5 372.9v11.2M749.6 372.9v11.2M741.8 371.9h11.2M741.8 401.3h11.2M743.7 380.3v11.2M751.2 380.3v11.2M743.9 371.4h11.2M743.9 392.8h11.2M745.7 376.0v11.2M753.3 376.0v11.2M744.8 370.5h11.2M744.8 404.9h11.2M746.6 381.2v11.2M754.2 381.2v11.2M745.3 361.0h11.2M745.3 387.9h11.2M748.1 368.2v11.2M753.6 368.2v11.2M746.9 373.2h11.2M746.9 403.6h11.2M750.5 382.1v11.2M754.5 382.1v11.2M748.7 366.6h11.2M748.7 403.5h11.2M752.1 378.5v11.2M756.4 378.5v11.2M749.6 362.3h11.2M749.6 392.2h11.2M751.7 370.9v11.2M758.8 370.9v11.2M750.4 361.2h11.2M750.4 395.2h11.2M753.5 371.8v11.2M758.6 371.8v11.2M752.1 372.5h11.2M752.1 400.1h11.2M754.2 380.0v11.2M761.3 380.0v11.2M752.7 365.5h11.2M752.7 404.6h11.2M754.6 378.5v11.2M762.0 378.5v11.2M753.7 371.9h11.2M753.7 398.6h11.2M755.6 379.0v11.2M763.1 379.0v11.2M755.1 374.0h11.2M755.1 401.8h11.2M758.5 381.6v11.2M762.8 381.6v11.2M756.5 384.6h11.2M756.5 406.3h11.2M759.9 389.4v11.2M764.3 389.4v11.2M757.9 370.2h11.2M757.9 405.9h11.2M759.7 381.5v11.2M767.2 381.5v11.2M758.8 371.6h11.2M758.8 396.5h11.2M761.4 377.8v11.2M767.5 377.8v11.2M760.7 395.0h11.2M760.7 419.8h11.2M764.0 401.2v11.2M768.6 401.2v11.2M761.2 383.2h11.2M761.2 422.1h11.2M762.8 396.1v11.2M770.7 396.1v11.2M762.3 382.7h11.2M762.3 414.0h11.2M765.5 392.0v11.2M770.2 392.0v11.2M763.5 387.1h11.2M763.5 425.1h11.2M765.6 399.5v11.2M772.5 399.5v11.2M765.3 384.9h11.2M765.3 424.8h11.2M767.9 398.2v11.2M773.9 398.2v11.2M766.8 394.9h11.2M766.8 428.3h11.2M770.2 405.1v11.2M774.6 405.1v11.2M767.7 410.0h11.2M767.7 433.6h11.2M769.5 415.6v11.2M777.1 415.6v11.2M769.3 402.5h11.2M769.3 434.7h11.2M772.6 412.2v11.2M777.3 412.2v11.2M770.3 407.5h11.2M770.3 433.0h11.2M772.1 414.1v11.2M779.6 414.1v11.2M771.7 415.6h11.2M771.7 444.4h11.2M773.3 423.7v11.2M781.3 423.7v11.2M773.0 417.8h11.2M773.0 445.9h11.2M775.8 425.6v11.2M781.3 425.6v11.2M773.7 405.0h11.2M773.7 429.9h11.2M775.8 411.3v11.2M782.8 411.3v11.2M775.4 411.8h11.2M775.4 443.2h11.2M778.1 421.1v11.2M783.9 421.1v11.2M776.1 416.1h11.2M776.1 446.6h11.2M778.1 425.0v11.2M785.2 425.0v11.2M777.0 419.3h11.2M777.0 453.4h11.2M780.5 429.9v11.2M784.7 429.9v11.2M778.4 415.0h11.2M778.4 441.7h11.2M780.1 422.1v11.2M788.0 422.1v11.2M779.9 419.4h11.2M779.9 446.4h11.2M783.5 426.6v11.2M787.6 426.6v11.2M780.7 421.4h11.2M780.7 456.3h11.2M783.6 432.4v11.2M789.0 432.4v11.2M782.6 429.7h11.2M782.6 460.8h11.2M785.9 438.9v11.2M790.6 438.9v11.2M783.1 425.0h11.2M783.1 455.0h11.2M786.2 433.6v11.2M791.1 433.6v11.2M784.4 421.5h11.2M784.4 457.4h11.2M787.0 433.0v11.2M792.9 433.0v11.2M785.5 433.0h11.2M785.5 458.5h11.2M787.9 439.5v11.2M794.3 439.5v11.2M786.8 433.0h11.2M786.8 472.8h11.2M788.5 446.3v11.2M796.4 446.3v11.2M787.6 429.1h11.2M787.6 468.3h11.2M790.2 442.1v11.2M796.2 442.1v11.2M789.6 449.7h11.2M789.6 482.1h11.2M792.1 459.5v11.2M798.2 459.5v11.2M790.4 441.0h11.2M790.4 467.5h11.2M792.8 448.0v11.2M799.2 448.0v11.2M791.3 446.2h11.2M791.3 474.1h11.2M794.3 453.9v11.2M799.5 453.9v11.2M793.2 461.4h11.2M793.2 497.1h11.2M794.9 472.7v11.2M802.7 472.7v11.2M793.9 447.5h11.2M793.9 488.6h11.2M795.8 461.4v11.2M803.1 461.4v11.2M795.2 461.9h11.2M795.2 489.4h11.2M798.4 469.3v11.2M803.3 469.3v11.2M796.6 473.9h11.2M796.6 504.1h11.2M798.8 482.6v11.2M805.6 482.6v11.2M797.5 453.1h11.2M797.5 485.6h11.2M801.1 462.9v11.2M805.1 462.9v11.2M798.8 468.8h11.2M798.8 498.7h11.2M801.7 477.4v11.2M807.1 477.4v11.2M800.3 466.0h11.2M800.3 501.7h11.2M802.3 477.4v11.2M809.5 477.4v11.2M801.5 467.4h11.2M801.5 500.5h11.2M803.6 477.5v11.2M810.7 477.5v11.2M802.5 452.6h11.2M802.5 486.9h11.2M804.6 463.3v11.2M811.6 463.3v11.2M803.7 460.2h11.2M803.7 500.6h11.2M806.4 473.8v11.2M812.2 473.8v11.2M804.9 463.2h11.2M804.9 505.4h11.2M807.6 477.6v11.2M813.4 477.6v11.2M806.1 477.6h11.2M806.1 503.7h11.2M808.1 484.4v11.2M815.3 484.4v11.2M807.6 481.1h11.2M807.6 508.2h11.2M810.6 488.4v11.2M815.7 488.4v11.2M808.5 481.4h11.2M808.5 515.0h11.2M811.2 491.8v11.2M816.9 491.8v11.2M810.0 476.1h11.2M810.0 511.8h11.2M812.1 487.4v11.2M819.1 487.4v11.2M810.9 471.4h11.2M810.9 506.4h11.2M812.7 482.4v11.2M820.4 482.4v11.2M812.9 493.5h11.2M812.9 522.5h11.2M816.3 501.7v11.2M820.6 501.7v11.2M813.3 481.5h11.2M813.3 520.1h11.2M816.4 494.2v11.2M821.4 494.2v11.2M815.3 497.4h11.2M815.3 539.7h11.2M817.6 511.9v11.2M824.3 511.9v11.2M815.7 486.7h11.2M815.7 517.9h11.2M818.9 495.9v11.2M823.7 495.9v11.2M817.6 487.9h11.2M817.6 530.3h11.2M820.9 502.4v11.2M825.5 502.4v11.2M818.7 502.0h11.2M818.7 531.3h11.2M820.5 510.3v11.2M828.0 510.3v11.2M819.4 490.6h11.2M819.4 523.0h11.2M822.2 500.4v11.2M827.8 500.4v11.2M821.3 482.4h11.2M821.3 524.2h11.2M824.1 496.7v11.2M829.6 496.7v11.2M821.9 495.9h11.2M821.9 534.5h11.2M824.2 508.7v11.2M830.7 508.7v11.2M822.9 496.3h11.2M822.9 534.4h11.2M825.4 508.8v11.2M831.5 508.8v11.2M824.7 496.0h11.2M824.7 527.9h11.2M827.6 505.5v11.2M833.1 505.5v11.2M825.8 489.8h11.2M825.8 524.6h11.2M829.4 500.7v11.2M833.5 500.7v11.2M824.2 500.0h11.2M824.2 547.5h11.2M822.9 517.0v11.2M836.8 517.0v11.2M827.8 492.3h11.2M827.8 538.6h11.2M829.3 508.7v11.2M837.4 508.7v11.2M831.6 514.7h11.2M831.6 541.7h11.2M831.9 521.9v11.2M842.4 521.9v11.2M835.7 505.5h11.2M835.7 534.2h11.2M833.6 513.5v11.2M848.9 513.5v11.2M842.0 504.9h11.2M842.0 548.5h11.2M843.5 520.0v11.2M851.6 520.0v11.2M844.4 512.5h11.2M844.4 554.5h11.2M846.7 526.8v11.2M853.3 526.8v11.2M850.9 533.7h11.2M850.9 561.2h11.2M849.2 541.1v11.2M863.8 541.1v11.2M852.7 504.5h11.2M852.7 547.5h11.2M850.0 519.3v11.2M866.6 519.3v11.2M857.9 517.6h11.2M857.9 561.5h11.2M858.2 532.9v11.2M868.8 532.9v11.2M860.4 515.5h11.2M860.4 555.9h11.2M857.2 529.1v11.2M874.8 529.1v11.2M866.6 516.9h11.2M866.6 547.8h11.2M869.2 525.9v11.2M875.2 525.9v11.2M868.2 537.5h11.2M868.2 570.0h11.2M870.4 547.3v11.2M877.2 547.3v11.2M872.5 511.6h11.2M872.5 558.4h11.2M874.2 528.2v11.2M882.0 528.2v11.2M876.7 505.6h11.2M876.7 552.8h11.2M876.1 522.4v11.2M888.5 522.4v11.2M880.1 518.5h11.2M880.1 550.9h11.2M878.7 528.3v11.2M892.7 528.3v11.2M886.7 524.5h11.2M886.7 558.1h11.2M883.9 534.9v11.2M900.8 534.9v11.2M889.5 519.0h11.2M889.5 555.2h11.2M889.3 530.6v11.2M900.8 530.6v11.2M892.3 543.7h11.2M892.3 578.5h11.2M892.3 554.6v11.2M903.5 554.6v11.2M898.1 536.9h11.2M898.1 575.3h11.2M897.9 549.5v11.2M909.5 549.5v11.2M902.0 539.9h11.2M902.0 569.2h11.2M900.1 548.2v11.2M915.0 548.2v11.2M906.1 532.4h11.2M906.1 576.1h11.2M905.3 547.6v11.2M918.2 547.6v11.2M911.1 550.0h11.2M911.1 585.2h11.2M909.7 561.2v11.2M923.6 561.2v11.2M912.5 530.6h11.2M912.5 563.3h11.2M914.1 540.5v11.2M922.1 540.5v11.2M918.3 544.4h11.2M918.3 573.1h11.2M917.9 552.4v11.2M929.9 552.4v11.2" fill="none" stroke="#231f20" stroke-width="1.4"/>
</g>
<path d="M191.3 313.2H220.7M206 313.2V339.2" stroke="#231f20" stroke-width="1.9" fill="none"/><path d="M191.3 307.4v11.6M220.7 307.4v11.6" stroke="#231f20" stroke-width="1.2" fill="none"/><path d="M200 337.8h12.2l-6.1 9.3z" fill="#231f20"/>
<g clip-path="url(#cb)">
<polygon points="146.4,1097.5 150.6,1098.6 154.7,1099.7 158.9,1100.8 163.1,1101.8 167.2,1102.9 171.4,1104.0 175.6,1105.1 179.7,1106.2 183.9,1107.3 188.1,1108.4 192.2,1109.4 196.4,1110.5 200.6,1111.6 204.7,1112.7 208.9,1113.8 213.1,1114.9 217.2,1116.0 221.4,1117.0 225.6,1118.1 229.7,1119.2 233.9,1120.3 238.1,1121.4 242.2,1122.5 246.4,1123.6 250.6,1124.6 254.7,1125.7 258.9,1126.8 263.1,1127.9 267.2,1129.0 271.4,1130.1 275.6,1131.2 279.7,1132.2 283.9,1133.3 288.1,1134.4 292.2,1135.5 296.4,1136.6 300.6,1137.7 304.7,1138.8 308.9,1139.8 313.1,1140.9 317.2,1142.0 321.4,1143.1 325.6,1144.2 329.7,1145.3 333.9,1146.4 338.1,1147.4 342.2,1148.5 346.4,1149.6 350.6,1150.7 354.7,1151.8 358.9,1152.9 363.0,1154.0 367.2,1155.0 371.4,1156.1 375.5,1157.2 379.7,1158.3 383.9,1159.4 388.0,1160.5 392.2,1161.6 396.4,1162.6 400.5,1163.7 404.7,1164.8 408.9,1165.9 413.0,1167.0 417.2,1168.1 421.4,1169.2 425.5,1170.2 429.7,1171.3 433.9,1172.4 438.0,1173.5 442.2,1174.6 446.4,1175.7 450.5,1176.8 454.7,1177.8 458.9,1178.9 463.0,1180.0 467.2,1181.1 471.4,1182.2 475.5,1183.3 479.7,1184.4 483.9,1185.4 488.0,1186.5 492.2,1187.6 496.4,1188.7 500.5,1189.8 504.7,1190.9 508.9,1192.0 513.0,1193.0 517.2,1194.1 521.4,1195.2 525.5,1196.3 529.7,1197.4 533.9,1198.5 538.0,1199.6 542.2,1200.6 546.4,1201.7 550.5,1202.8 554.7,1203.9 558.9,1205.0 563.0,1206.1 567.2,1207.2 571.4,1208.2 575.5,1209.3 579.7,1210.4 583.9,1211.5 588.0,1212.6 592.2,1213.7 596.4,1214.8 600.5,1215.8 604.7,1216.9 608.9,1218.0 613.0,1219.1 617.2,1220.2 621.4,1221.3 625.5,1222.4 629.7,1223.4 633.9,1224.5 638.0,1225.6 642.2,1226.7 646.4,1227.8 650.5,1228.9 654.7,1230.0 658.9,1231.0 663.0,1232.1 667.2,1233.2 671.4,1234.3 675.5,1235.4 679.7,1236.5 683.9,1237.6 688.0,1238.6 692.2,1239.7 696.4,1240.8 700.5,1241.9 704.7,1243.0 708.9,1244.1 713.0,1245.2 717.2,1246.2 721.4,1247.3 725.5,1248.4 729.7,1249.5 733.9,1250.6 738.0,1251.7 742.2,1252.8 746.4,1253.8 750.5,1254.9 754.7,1256.0 758.9,1257.1 763.0,1258.2 767.2,1259.3 770.0,1260.0 771.3,1260.3 775.5,1261.2 779.7,1262.1 780.0,1262.2 783.8,1263.0 788.0,1263.9 790.0,1264.4 792.2,1264.8 796.3,1265.7 800.0,1266.5 800.5,1266.6 804.7,1267.5 808.8,1268.4 810.0,1268.7 813.0,1269.4 817.2,1270.3 820.0,1270.9 821.3,1271.2 825.5,1272.1 829.7,1273.0 830.0,1273.0 833.8,1273.9 838.0,1274.8 840.0,1275.2 842.2,1275.7 846.3,1276.6 850.0,1277.4 850.5,1277.5 854.7,1278.4 858.8,1279.3 860.0,1279.6 863.0,1280.1 867.2,1280.6 871.3,1281.2 875.5,1281.7 879.7,1282.3 883.8,1282.8 888.0,1283.4 892.2,1283.9 896.3,1284.5 900.5,1285.0 904.7,1285.6 908.8,1286.1 913.0,1286.7 917.2,1287.2 921.3,1287.8 925.5,1288.3 929.7,1288.9 933.8,1289.5 938.0,1290.0 942.2,1290.6 946.3,1291.1 950.5,1291.7 954.7,1292.2 958.8,1292.8 963.0,1293.3 967.2,1293.9 971.3,1294.4 975.5,1295.0 975.5,1320.4 971.3,1319.1 967.2,1317.8 963.0,1316.6 958.8,1315.3 954.7,1314.1 950.5,1312.8 946.3,1311.5 942.2,1310.3 938.0,1309.0 933.8,1307.8 929.7,1306.5 925.5,1305.2 921.3,1304.0 917.2,1302.7 913.0,1301.5 908.8,1300.2 904.7,1299.0 900.5,1297.7 896.3,1296.4 892.2,1295.2 888.0,1293.9 883.8,1292.7 879.7,1291.4 875.5,1290.1 871.3,1288.9 867.2,1287.6 863.0,1286.4 860.0,1285.6 858.8,1285.3 854.7,1284.4 850.5,1283.5 850.0,1283.4 846.3,1282.6 842.2,1281.7 840.0,1281.2 838.0,1280.8 833.8,1279.9 830.0,1279.0 829.7,1279.0 825.5,1278.1 821.3,1277.2 820.0,1276.9 817.2,1276.3 813.0,1275.4 810.0,1274.7 808.8,1274.4 804.7,1273.5 800.5,1272.6 800.0,1272.5 796.3,1271.7 792.2,1270.8 790.0,1270.4 788.0,1269.9 783.8,1269.0 780.0,1268.2 779.7,1268.1 775.5,1267.2 771.3,1266.3 770.0,1266.0 767.2,1265.5 763.0,1264.8 758.9,1264.1 754.7,1263.3 750.5,1262.6 746.4,1261.9 742.2,1261.2 738.0,1260.4 733.9,1259.7 729.7,1259.0 725.5,1258.3 721.4,1257.5 717.2,1256.8 713.0,1256.1 708.9,1255.4 704.7,1254.6 700.5,1253.9 696.4,1253.2 692.2,1252.5 688.0,1251.7 683.9,1251.0 679.7,1250.3 675.5,1249.6 671.4,1248.8 667.2,1248.1 663.0,1247.4 658.9,1246.7 654.7,1245.9 650.5,1245.2 646.4,1244.5 642.2,1243.8 638.0,1243.0 633.9,1242.3 629.7,1241.6 625.5,1240.9 621.4,1240.1 617.2,1239.4 613.0,1238.7 608.9,1238.0 604.7,1237.2 600.5,1236.5 596.4,1235.8 592.2,1235.1 588.0,1234.3 583.9,1233.6 579.7,1232.9 575.5,1232.2 571.4,1231.4 567.2,1230.7 563.0,1230.0 558.9,1229.3 554.7,1228.5 550.5,1227.8 546.4,1227.1 542.2,1226.4 538.0,1225.6 533.9,1224.9 529.7,1224.2 525.5,1223.5 521.4,1222.7 517.2,1222.0 513.0,1221.3 508.9,1220.6 504.7,1219.8 500.5,1219.1 496.4,1218.4 492.2,1217.7 488.0,1216.9 483.9,1216.2 479.7,1215.5 475.5,1214.8 471.4,1214.0 467.2,1213.3 463.0,1212.6 458.9,1211.9 454.7,1211.1 450.5,1210.4 446.4,1209.7 442.2,1209.0 438.0,1208.2 433.9,1207.5 429.7,1206.8 425.5,1206.1 421.4,1205.3 417.2,1204.6 413.0,1203.9 408.9,1203.2 404.7,1202.4 400.5,1201.7 396.4,1201.0 392.2,1200.3 388.0,1199.5 383.9,1198.8 379.7,1198.1 375.5,1197.4 371.4,1196.6 367.2,1195.9 363.0,1195.2 358.9,1194.5 354.7,1193.7 350.6,1193.0 346.4,1192.3 342.2,1191.6 338.1,1190.8 333.9,1190.1 329.7,1189.4 325.6,1188.7 321.4,1187.9 317.2,1187.2 313.1,1186.5 308.9,1185.8 304.7,1185.0 300.6,1184.3 296.4,1183.6 292.2,1182.9 288.1,1182.1 283.9,1181.4 279.7,1180.7 275.6,1180.0 271.4,1179.2 267.2,1178.5 263.1,1177.8 258.9,1177.1 254.7,1176.3 250.6,1175.6 246.4,1174.9 242.2,1174.2 238.1,1173.4 233.9,1172.7 229.7,1172.0 225.6,1171.3 221.4,1170.5 217.2,1169.8 213.1,1169.1 208.9,1168.4 204.7,1167.6 200.6,1166.9 196.4,1166.2 192.2,1165.5 188.1,1164.7 183.9,1164.0 179.7,1163.3 175.6,1162.6 171.4,1161.8 167.2,1161.1 163.1,1160.4 158.9,1159.7 154.7,1158.9 150.6,1158.2 146.4,1157.5" fill="#c7c8ca" stroke="#8a8c8e" stroke-width="0.6"/>
<line x1="146.4" y1="1127.5" x2="975.5" y2="1307.7" stroke="#231f20" stroke-width="2.2"/>
<path d="M708.8 1274.0V1311.3M674.7 1293.2H742.9M710.9 1241.7V1271.6M697.6 1255.6H729.9M730.0 1244.4V1276.0M724.0 1258.8H735.0M765.6 1277.0V1305.2M761.1 1290.8H770.1M739.2 1239.0V1279.0M736.2 1259.0H742.2M743.2 1236.4V1279.6M740.2 1258.0H746.2M751.2 1222.8V1277.0M748.2 1250.0H754.2M762.4 1224.4V1277.0M759.4 1251.0H765.4M747.0 1245.0V1279.0M744.0 1262.0H750.0M757.0 1241.0V1279.0M754.0 1260.0H760.0M771.2 1211.3V1275.0M768.2 1245.0H774.2M786.5 1213.7V1277.0M783.5 1247.0H789.5M796.8 1226.0V1284.0M793.8 1256.0H799.8M839.0 1201.3V1276.0M836.0 1240.0H842.0M853.0 1205.5V1279.0M850.0 1243.0H856.0M867.0 1223.0V1285.0M864.0 1255.0H870.0M825.0 1258.0V1312.0M821.0 1285.0H829.0M913.6 1319.5V1349.0M909.1 1334.0H918.1M952.8 1236.3V1265.0M951.3 1251.0H954.3M968.5 1228.3V1294.8M966.5 1261.5H970.5M945.8 1284.0V1336.0M942.8 1310.0H948.8M958.0 1278.0V1328.0M955.0 1303.0H961.0M868.8 1270.0V1321.7M865.8 1296.0H871.8M950.0 1266.0V1314.0M947.0 1290.0H953.0M962.0 1266.0V1312.0M959.0 1288.0H965.0M955.0 1276.0V1318.0M952.5 1296.0H957.5M772.2 1217.6V1255.8M768.9 1236.1H775.5M772.9 1249.4V1279.6M770.1 1264.1H775.7M774.1 1254.7V1277.6M772.4 1265.8H775.8M774.4 1237.0V1281.3M771.1 1258.5H777.8M775.0 1234.6V1272.0M770.9 1252.8H779.2M776.0 1227.4V1254.9M773.5 1240.7H778.5M776.6 1252.5V1284.3M772.6 1267.9H780.7M777.8 1244.9V1269.3M775.5 1256.8H780.0M778.4 1240.8V1283.3M775.0 1261.4H781.8M779.4 1256.2V1287.2M776.1 1271.2H782.8M780.1 1252.9V1287.4M778.1 1269.6H782.1M780.4 1260.8V1294.1M778.6 1276.9H782.3M781.6 1234.0V1282.5M777.5 1257.6H785.7M781.9 1224.9V1272.6M778.5 1248.1H785.3M783.1 1234.2V1274.5M779.8 1253.7H786.4M783.3 1246.2V1275.8M779.6 1260.6H787.0M784.6 1233.9V1282.7M782.8 1257.6H786.5M785.1 1244.3V1290.1M783.1 1266.5H787.1M785.8 1237.1V1285.1M782.1 1260.4H789.5M786.5 1247.7V1276.4M782.2 1261.6H790.8M787.2 1254.3V1287.1M785.5 1270.2H788.9M787.8 1256.2V1299.1M784.8 1277.0H790.8M788.9 1221.9V1262.0M785.2 1241.3H792.6M789.4 1247.9V1279.8M787.3 1263.3H791.6M790.6 1246.9V1271.5M787.8 1258.8H793.3M790.8 1236.9V1267.1M786.3 1251.6H795.2M791.8 1246.4V1277.6M789.1 1261.5H794.4M792.6 1260.5V1286.8M788.3 1273.2H796.9M793.5 1239.0V1286.9M789.5 1262.2H797.4M794.1 1245.8V1270.5M789.9 1257.8H798.4M794.7 1245.8V1273.7M790.4 1259.4H799.1M795.7 1257.5V1286.3M792.4 1271.5H799.0M796.4 1240.6V1267.6M793.7 1253.7H799.1M796.9 1252.4V1288.4M794.0 1269.9H799.9M797.7 1246.4V1270.3M793.4 1258.0H802.0M798.4 1254.0V1297.1M794.9 1274.9H801.9M799.5 1250.2V1289.1M796.9 1269.0H802.0M799.7 1251.6V1280.2M796.5 1265.5H803.0M801.0 1261.9V1301.4M797.0 1281.0H805.0M801.6 1246.2V1292.6M797.2 1268.7H805.9M802.1 1261.3V1295.6M800.2 1277.9H804.1M803.3 1235.0V1266.0M799.7 1250.1H806.9M804.1 1244.2V1288.2M801.4 1265.5H806.7M804.8 1252.3V1301.7M802.1 1276.3H807.5M804.9 1238.8V1289.7M802.9 1263.5H806.9M806.0 1242.9V1288.4M804.5 1265.0H807.5M807.0 1248.0V1285.9M803.5 1266.4H810.5M807.1 1248.3V1280.8M802.7 1264.1H811.5M808.1 1244.9V1286.9M805.5 1265.3H810.6M808.9 1250.7V1276.6M806.6 1263.3H811.3M809.5 1267.2V1298.5M807.3 1282.4H811.8M810.5 1244.1V1290.1M806.1 1266.4H815.0M811.2 1265.4V1305.8M807.8 1285.0H814.7M812.2 1270.5V1298.9M808.8 1284.3H815.6M812.5 1241.5V1291.1M810.6 1265.6H814.4M813.6 1253.9V1279.7M810.1 1266.4H817.2M814.2 1250.6V1293.7M810.2 1271.5H818.2M815.3 1250.8V1285.2M813.4 1267.5H817.2M815.9 1253.5V1287.9M811.5 1270.2H820.4M816.1 1231.4V1275.6M813.8 1252.8H818.4M817.1 1263.7V1299.4M813.8 1281.0H820.4M817.7 1270.8V1306.9M815.7 1288.3H819.8M818.7 1243.7V1284.4M815.4 1263.5H821.9M819.8 1258.5V1289.2M815.4 1273.4H824.1M820.2 1244.0V1291.7M816.5 1267.1H824.0M820.6 1257.0V1300.6M818.4 1278.1H822.8M821.8 1242.8V1293.5M818.7 1267.4H824.9M822.2 1238.7V1285.1M817.8 1261.2H826.6M823.1 1251.1V1295.3M821.4 1272.6H824.8M824.0 1261.3V1287.6M821.3 1274.0H826.7M824.9 1245.7V1294.6M822.3 1269.4H827.6M825.3 1240.5V1271.1M823.6 1255.3H826.9M826.3 1259.2V1297.0M823.0 1277.5H829.5M826.5 1242.9V1279.7M822.5 1260.7H830.6M827.3 1271.7V1312.6M823.4 1291.5H831.2M828.3 1246.2V1292.9M826.0 1268.8H830.6M829.2 1251.7V1294.9M824.8 1272.7H833.6M829.7 1230.9V1277.6M828.0 1253.6H831.4M830.8 1271.2V1312.4M828.6 1291.2H833.0M831.2 1262.5V1293.5M828.2 1277.5H834.2M831.9 1260.5V1288.4M828.7 1274.1H835.1M833.0 1241.2V1293.7M830.8 1266.7H835.2M833.8 1249.8V1303.2M830.9 1275.7H836.6M834.7 1253.1V1289.9M831.4 1271.0H838.0M834.8 1242.0V1296.2M833.0 1268.3H836.6M835.5 1238.0V1274.8M832.7 1255.8H838.3M836.8 1253.1V1283.8M835.3 1268.0H838.4M837.2 1259.4V1298.3M835.5 1278.2H838.8M838.4 1254.0V1280.9M835.5 1267.0H841.3M838.9 1226.3V1280.7M836.1 1252.7H841.6M839.6 1258.9V1310.5M836.6 1284.0H842.7M840.0 1266.8V1296.5M836.6 1281.2H843.3M841.1 1249.2V1285.4M837.6 1266.8H844.7M842.1 1256.5V1302.3M840.2 1278.7H844.0M842.9 1250.3V1295.8M840.3 1272.3H845.6M843.2 1252.2V1281.9M841.3 1266.6H845.1M843.8 1247.1V1294.7M841.7 1270.2H845.9M845.1 1245.1V1296.0M842.5 1269.8H847.7M845.5 1261.4V1302.6M842.3 1281.4H848.7M846.3 1243.5V1283.9M843.5 1263.1H849.0M847.0 1247.6V1301.0M843.7 1273.5H850.4M847.8 1267.9V1313.3M846.3 1289.9H849.4M848.2 1249.1V1287.9M843.8 1267.9H852.6M848.9 1261.4V1315.6M845.7 1287.7H852.1M850.2 1245.3V1285.8M846.0 1264.9H854.4M850.9 1270.1V1316.9M847.9 1292.8H853.8M851.4 1235.5V1291.2M848.5 1262.5H854.3M852.4 1276.4V1304.2M849.1 1289.9H855.6M853.2 1257.4V1307.5M850.8 1281.7H855.5M853.6 1252.1V1294.0M849.1 1272.4H858.1M854.4 1244.1V1273.2M850.2 1258.2H858.7M855.1 1259.3V1289.2M851.3 1273.8H858.8M855.7 1265.2V1301.0M852.6 1282.5H858.9M856.8 1259.6V1297.6M853.8 1278.0H859.8M857.7 1272.5V1305.0M853.2 1288.3H862.1M858.3 1263.6V1295.7M855.9 1279.1H860.7M858.8 1241.8V1270.3M856.1 1255.6H861.5M859.8 1266.9V1304.0M858.0 1284.9H861.7M860.4 1267.1V1318.6M858.9 1292.1H862.0M861.2 1249.6V1297.4M858.9 1272.8H863.5M861.6 1247.9V1290.0M857.3 1268.3H865.9M862.9 1237.2V1275.4M859.1 1255.7H866.7M863.8 1248.7V1287.1M860.7 1267.3H866.8M864.1 1265.3V1303.3M860.5 1283.7H867.6M864.9 1256.1V1298.5M862.8 1276.7H866.9M865.7 1268.3V1304.9M863.6 1286.1H867.8M866.4 1266.5V1302.6M862.6 1284.0H870.2M867.1 1244.7V1296.5M863.1 1269.8H871.1M868.1 1258.3V1291.9M865.5 1274.6H870.8M868.8 1250.7V1301.9M865.5 1275.6H872.2M869.3 1254.0V1309.0M867.1 1280.7H871.5M870.3 1254.8V1303.1M866.2 1278.2H874.3M871.1 1251.6V1308.2M868.8 1279.0H873.4M871.6 1253.4V1301.3M867.4 1276.6H875.9M872.2 1249.2V1291.6M868.3 1269.7H876.2M873.4 1251.5V1302.0M870.1 1276.0H876.8M873.6 1251.0V1307.1M871.3 1278.2H875.8M874.8 1248.1V1302.9M872.3 1274.7H877.4M875.6 1250.8V1298.0M873.1 1273.7H878.2M875.9 1261.5V1305.9M873.9 1283.1H878.0M877.0 1261.4V1295.9M875.1 1278.1H878.8M878.0 1262.0V1316.5M873.6 1288.5H882.4M878.3 1262.3V1298.4M874.1 1279.8H882.5M879.2 1261.0V1302.7M875.9 1281.2H882.6M879.8 1268.5V1312.0M876.0 1289.6H883.7M880.6 1273.7V1312.4M878.7 1292.5H882.5M881.6 1252.0V1295.1M879.2 1272.9H883.9M882.2 1264.5V1304.8M880.3 1284.1H884.0M882.7 1252.6V1306.7M879.4 1278.8H886.0M883.8 1259.7V1305.9M881.2 1282.1H886.4M884.4 1272.4V1309.6M881.2 1290.4H887.7M885.0 1252.7V1301.8M880.9 1276.5H889.1M885.9 1274.0V1331.3M881.8 1301.8H890.1M886.8 1261.8V1306.0M884.6 1283.2H888.9M887.0 1261.2V1302.0M885.2 1281.0H888.9M887.9 1280.3V1318.3M885.3 1298.7H890.4M888.7 1278.5V1311.3M885.4 1294.4H892.1M889.4 1258.3V1314.6M887.6 1285.6H891.2M890.4 1263.1V1307.8M886.5 1284.8H894.3M890.8 1281.5V1318.9M886.9 1299.6H894.6M892.2 1262.0V1322.6M888.7 1291.4H895.6M892.8 1259.0V1319.5M888.7 1288.3H896.9M893.3 1264.0V1325.3M890.5 1293.7H896.0M893.8 1272.4V1318.1M891.1 1294.6H896.5M894.5 1266.2V1319.6M890.7 1292.1H898.3M895.8 1263.4V1317.9M893.8 1289.8H897.7M896.4 1261.9V1300.6M893.9 1280.7H898.9M897.0 1261.1V1308.9M894.7 1284.3H899.3M897.7 1272.4V1313.8M895.5 1292.5H899.8M898.2 1261.1V1304.9M895.1 1282.3H901.4M899.5 1258.8V1302.7M895.2 1280.1H903.8M899.8 1259.7V1315.6M897.6 1286.8H902.1M900.6 1262.9V1321.9M897.7 1291.5H903.5M901.3 1267.6V1296.8M898.2 1281.8H904.5M902.3 1257.8V1303.9M898.6 1280.1H906.1M902.9 1270.4V1306.9M898.9 1288.1H906.9M903.5 1263.1V1311.5M900.2 1286.6H906.8M904.8 1253.9V1300.5M900.6 1276.5H909.0M905.0 1277.9V1309.3M900.7 1293.1H909.4M905.8 1275.3V1306.9M903.1 1290.6H908.6M907.0 1262.7V1314.3M902.7 1287.8H911.2M907.5 1268.7V1331.8M905.8 1299.3H909.2M908.6 1247.0V1304.1M905.3 1274.7H911.9M909.3 1272.2V1314.3M907.8 1292.6H910.8M909.8 1282.4V1316.4M907.8 1298.9H911.8M910.3 1262.5V1298.7M907.5 1280.1H913.0M911.1 1253.0V1310.9M909.5 1281.1H912.7M912.1 1264.1V1305.4M909.4 1284.1H914.9M912.6 1253.4V1309.5M910.3 1280.6H914.9M913.5 1269.5V1321.7M911.8 1294.8H915.2M914.0 1260.4V1317.8M910.3 1288.3H917.6M915.0 1262.2V1308.9M913.4 1284.9H916.7M916.1 1262.8V1304.2M911.8 1282.9H920.3M916.6 1242.2V1298.6M913.8 1269.6H919.3M917.1 1276.6V1326.1M913.8 1300.6H920.4M917.7 1269.2V1307.0M915.5 1287.5H919.9M918.8 1259.5V1308.3M915.4 1283.2H922.2M919.5 1254.0V1293.6M917.2 1273.2H921.8M920.4 1283.6V1334.1M917.6 1308.1H923.2M920.6 1271.1V1315.4M917.5 1292.6H923.7M921.4 1279.9V1327.4M917.1 1302.9H925.8M922.5 1276.5V1306.9M918.1 1291.3H927.0M923.3 1269.7V1328.5M921.1 1298.2H925.5M924.1 1269.9V1331.4M921.1 1299.7H927.1M925.0 1273.8V1313.1M922.3 1292.8H927.6M925.6 1279.5V1318.4M922.3 1298.4H929.0M926.3 1256.1V1309.1M923.2 1281.8H929.4M927.3 1279.9V1310.3M923.2 1294.6H931.4M927.6 1268.6V1329.8M925.5 1298.3H929.6M928.2 1267.4V1314.6M925.4 1290.3H931.1M929.0 1266.3V1322.2M924.9 1293.4H933.1M930.0 1252.3V1310.3M928.5 1280.4H931.5M930.4 1259.2V1298.3M927.7 1278.2H933.1M931.3 1288.9V1325.5M927.3 1306.6H935.4M932.0 1277.2V1313.2M929.5 1294.6H934.6M932.6 1254.2V1315.5M929.4 1283.9H935.9M933.9 1278.3V1314.2M930.7 1295.7H937.1M934.6 1267.8V1314.2M932.5 1290.3H936.8M935.0 1265.6V1312.4M930.8 1288.3H939.1M935.6 1273.8V1308.2M933.9 1290.5H937.3M936.7 1282.4V1313.1M933.7 1297.3H939.8M937.2 1279.1V1337.5M934.7 1307.4H939.6M938.2 1269.4V1323.6M934.5 1295.7H941.9M938.8 1272.5V1334.5M935.1 1302.6H942.5M939.9 1265.2V1309.8M937.4 1286.8H942.4M743.1 1231.5V1269.1M738.9 1249.7H747.4M747.4 1243.8V1272.0M745.5 1257.5H749.3M749.4 1242.8V1266.8M746.8 1254.4H752.0M754.0 1237.2V1267.6M752.4 1251.9H755.6M759.4 1267.2V1300.9M756.3 1283.6H762.5M760.3 1247.2V1271.8M757.2 1259.1H763.4M766.0 1251.8V1280.2M764.4 1265.6H767.6M768.5 1264.0V1287.2M766.7 1275.2H770.3M772.5 1220.6V1259.1M768.4 1239.3H776.5M940.1 1275.4V1324.2M936.2 1299.1H944.1M942.6 1263.6V1314.1M938.3 1288.1H946.8M943.8 1256.6V1316.2M941.9 1285.5H945.8M947.6 1268.4V1318.7M943.5 1292.8H951.7M948.3 1282.3V1321.4M945.8 1301.3H950.7" fill="none" stroke="#231f20" stroke-width="2"/><path d="M703.2 1274.0h11.2M703.2 1311.3h11.2M674.7 1287.6v11.2M742.9 1287.6v11.2M705.3 1241.7h11.2M705.3 1271.6h11.2M697.6 1250.0v11.2M729.9 1250.0v11.2M724.4 1244.4h11.2M724.4 1276.0h11.2M724.0 1253.2v11.2M735.0 1253.2v11.2M760.0 1277.0h11.2M760.0 1305.2h11.2M761.1 1285.2v11.2M770.1 1285.2v11.2M733.6 1239.0h11.2M733.6 1279.0h11.2M736.2 1253.4v11.2M742.2 1253.4v11.2M737.6 1236.4h11.2M737.6 1279.6h11.2M740.2 1252.4v11.2M746.2 1252.4v11.2M745.6 1222.8h11.2M745.6 1277.0h11.2M748.2 1244.4v11.2M754.2 1244.4v11.2M756.8 1224.4h11.2M756.8 1277.0h11.2M759.4 1245.4v11.2M765.4 1245.4v11.2M741.4 1245.0h11.2M741.4 1279.0h11.2M744.0 1256.4v11.2M750.0 1256.4v11.2M751.4 1241.0h11.2M751.4 1279.0h11.2M754.0 1254.4v11.2M760.0 1254.4v11.2M765.6 1211.3h11.2M765.6 1275.0h11.2M768.2 1239.4v11.2M774.2 1239.4v11.2M780.9 1213.7h11.2M780.9 1277.0h11.2M783.5 1241.4v11.2M789.5 1241.4v11.2M791.2 1226.0h11.2M791.2 1284.0h11.2M793.8 1250.4v11.2M799.8 1250.4v11.2M833.4 1201.3h11.2M833.4 1276.0h11.2M836.0 1234.4v11.2M842.0 1234.4v11.2M847.4 1205.5h11.2M847.4 1279.0h11.2M850.0 1237.4v11.2M856.0 1237.4v11.2M861.4 1223.0h11.2M861.4 1285.0h11.2M864.0 1249.4v11.2M870.0 1249.4v11.2M819.4 1258.0h11.2M819.4 1312.0h11.2M821.0 1279.4v11.2M829.0 1279.4v11.2M908.0 1319.5h11.2M908.0 1349.0h11.2M909.1 1328.4v11.2M918.1 1328.4v11.2M947.2 1236.3h11.2M947.2 1265.0h11.2M951.3 1245.4v11.2M954.3 1245.4v11.2M962.9 1228.3h11.2M962.9 1294.8h11.2M966.5 1255.9v11.2M970.5 1255.9v11.2M940.2 1284.0h11.2M940.2 1336.0h11.2M942.8 1304.4v11.2M948.8 1304.4v11.2M952.4 1278.0h11.2M952.4 1328.0h11.2M955.0 1297.4v11.2M961.0 1297.4v11.2M863.2 1270.0h11.2M863.2 1321.7h11.2M865.8 1290.4v11.2M871.8 1290.4v11.2M944.4 1266.0h11.2M944.4 1314.0h11.2M947.0 1284.4v11.2M953.0 1284.4v11.2M956.4 1266.0h11.2M956.4 1312.0h11.2M959.0 1282.4v11.2M965.0 1282.4v11.2M949.4 1276.0h11.2M949.4 1318.0h11.2M952.5 1290.4v11.2M957.5 1290.4v11.2M766.6 1217.6h11.2M766.6 1255.8h11.2M768.9 1230.5v11.2M775.5 1230.5v11.2M767.3 1249.4h11.2M767.3 1279.6h11.2M770.1 1258.5v11.2M775.7 1258.5v11.2M768.5 1254.7h11.2M768.5 1277.6h11.2M772.4 1260.2v11.2M775.8 1260.2v11.2M768.8 1237.0h11.2M768.8 1281.3h11.2M771.1 1252.9v11.2M777.8 1252.9v11.2M769.4 1234.6h11.2M769.4 1272.0h11.2M770.9 1247.2v11.2M779.2 1247.2v11.2M770.4 1227.4h11.2M770.4 1254.9h11.2M773.5 1235.1v11.2M778.5 1235.1v11.2M771.0 1252.5h11.2M771.0 1284.3h11.2M772.6 1262.3v11.2M780.7 1262.3v11.2M772.2 1244.9h11.2M772.2 1269.3h11.2M775.5 1251.2v11.2M780.0 1251.2v11.2M772.8 1240.8h11.2M772.8 1283.3h11.2M775.0 1255.8v11.2M781.8 1255.8v11.2M773.8 1256.2h11.2M773.8 1287.2h11.2M776.1 1265.6v11.2M782.8 1265.6v11.2M774.5 1252.9h11.2M774.5 1287.4h11.2M778.1 1264.0v11.2M782.1 1264.0v11.2M774.8 1260.8h11.2M774.8 1294.1h11.2M778.6 1271.3v11.2M782.3 1271.3v11.2M776.0 1234.0h11.2M776.0 1282.5h11.2M777.5 1252.0v11.2M785.7 1252.0v11.2M776.3 1224.9h11.2M776.3 1272.6h11.2M778.5 1242.5v11.2M785.3 1242.5v11.2M777.5 1234.2h11.2M777.5 1274.5h11.2M779.8 1248.1v11.2M786.4 1248.1v11.2M777.7 1246.2h11.2M777.7 1275.8h11.2M779.6 1255.0v11.2M787.0 1255.0v11.2M779.0 1233.9h11.2M779.0 1282.7h11.2M782.8 1252.0v11.2M786.5 1252.0v11.2M779.5 1244.3h11.2M779.5 1290.1h11.2M783.1 1260.9v11.2M787.1 1260.9v11.2M780.2 1237.1h11.2M780.2 1285.1h11.2M782.1 1254.8v11.2M789.5 1254.8v11.2M780.9 1247.7h11.2M780.9 1276.4h11.2M782.2 1256.0v11.2M790.8 1256.0v11.2M781.6 1254.3h11.2M781.6 1287.1h11.2M785.5 1264.6v11.2M788.9 1264.6v11.2M782.2 1256.2h11.2M782.2 1299.1h11.2M784.8 1271.4v11.2M790.8 1271.4v11.2M783.3 1221.9h11.2M783.3 1262.0h11.2M785.2 1235.7v11.2M792.6 1235.7v11.2M783.8 1247.9h11.2M783.8 1279.8h11.2M787.3 1257.7v11.2M791.6 1257.7v11.2M785.0 1246.9h11.2M785.0 1271.5h11.2M787.8 1253.2v11.2M793.3 1253.2v11.2M785.2 1236.9h11.2M785.2 1267.1h11.2M786.3 1246.0v11.2M795.2 1246.0v11.2M786.2 1246.4h11.2M786.2 1277.6h11.2M789.1 1255.9v11.2M794.4 1255.9v11.2M787.0 1260.5h11.2M787.0 1286.8h11.2M788.3 1267.6v11.2M796.9 1267.6v11.2M787.9 1239.0h11.2M787.9 1286.9h11.2M789.5 1256.6v11.2M797.4 1256.6v11.2M788.5 1245.8h11.2M788.5 1270.5h11.2M789.9 1252.2v11.2M798.4 1252.2v11.2M789.1 1245.8h11.2M789.1 1273.7h11.2M790.4 1253.8v11.2M799.1 1253.8v11.2M790.1 1257.5h11.2M790.1 1286.3h11.2M792.4 1265.9v11.2M799.0 1265.9v11.2M790.8 1240.6h11.2M790.8 1267.6h11.2M793.7 1248.1v11.2M799.1 1248.1v11.2M791.3 1252.4h11.2M791.3 1288.4h11.2M794.0 1264.3v11.2M799.9 1264.3v11.2M792.1 1246.4h11.2M792.1 1270.3h11.2M793.4 1252.4v11.2M802.0 1252.4v11.2M792.8 1254.0h11.2M792.8 1297.1h11.2M794.9 1269.3v11.2M801.9 1269.3v11.2M793.9 1250.2h11.2M793.9 1289.1h11.2M796.9 1263.4v11.2M802.0 1263.4v11.2M794.1 1251.6h11.2M794.1 1280.2h11.2M796.5 1259.9v11.2M803.0 1259.9v11.2M795.4 1261.9h11.2M795.4 1301.4h11.2M797.0 1275.4v11.2M805.0 1275.4v11.2M796.0 1246.2h11.2M796.0 1292.6h11.2M797.2 1263.1v11.2M805.9 1263.1v11.2M796.5 1261.3h11.2M796.5 1295.6h11.2M800.2 1272.3v11.2M804.1 1272.3v11.2M797.7 1235.0h11.2M797.7 1266.0h11.2M799.7 1244.5v11.2M806.9 1244.5v11.2M798.5 1244.2h11.2M798.5 1288.2h11.2M801.4 1259.9v11.2M806.7 1259.9v11.2M799.2 1252.3h11.2M799.2 1301.7h11.2M802.1 1270.7v11.2M807.5 1270.7v11.2M799.3 1238.8h11.2M799.3 1289.7h11.2M802.9 1257.9v11.2M806.9 1257.9v11.2M800.4 1242.9h11.2M800.4 1288.4h11.2M804.5 1259.4v11.2M807.5 1259.4v11.2M801.4 1248.0h11.2M801.4 1285.9h11.2M803.5 1260.8v11.2M810.5 1260.8v11.2M801.5 1248.3h11.2M801.5 1280.8h11.2M802.7 1258.5v11.2M811.5 1258.5v11.2M802.5 1244.9h11.2M802.5 1286.9h11.2M805.5 1259.7v11.2M810.6 1259.7v11.2M803.3 1250.7h11.2M803.3 1276.6h11.2M806.6 1257.7v11.2M811.3 1257.7v11.2M803.9 1267.2h11.2M803.9 1298.5h11.2M807.3 1276.8v11.2M811.8 1276.8v11.2M804.9 1244.1h11.2M804.9 1290.1h11.2M806.1 1260.8v11.2M815.0 1260.8v11.2M805.6 1265.4h11.2M805.6 1305.8h11.2M807.8 1279.4v11.2M814.7 1279.4v11.2M806.6 1270.5h11.2M806.6 1298.9h11.2M808.8 1278.7v11.2M815.6 1278.7v11.2M806.9 1241.5h11.2M806.9 1291.1h11.2M810.6 1260.0v11.2M814.4 1260.0v11.2M808.0 1253.9h11.2M808.0 1279.7h11.2M810.1 1260.8v11.2M817.2 1260.8v11.2M808.6 1250.6h11.2M808.6 1293.7h11.2M810.2 1265.9v11.2M818.2 1265.9v11.2M809.7 1250.8h11.2M809.7 1285.2h11.2M813.4 1261.9v11.2M817.2 1261.9v11.2M810.3 1253.5h11.2M810.3 1287.9h11.2M811.5 1264.6v11.2M820.4 1264.6v11.2M810.5 1231.4h11.2M810.5 1275.6h11.2M813.8 1247.2v11.2M818.4 1247.2v11.2M811.5 1263.7h11.2M811.5 1299.4h11.2M813.8 1275.4v11.2M820.4 1275.4v11.2M812.1 1270.8h11.2M812.1 1306.9h11.2M815.7 1282.7v11.2M819.8 1282.7v11.2M813.1 1243.7h11.2M813.1 1284.4h11.2M815.4 1257.9v11.2M821.9 1257.9v11.2M814.2 1258.5h11.2M814.2 1289.2h11.2M815.4 1267.8v11.2M824.1 1267.8v11.2M814.6 1244.0h11.2M814.6 1291.7h11.2M816.5 1261.5v11.2M824.0 1261.5v11.2M815.0 1257.0h11.2M815.0 1300.6h11.2M818.4 1272.5v11.2M822.8 1272.5v11.2M816.2 1242.8h11.2M816.2 1293.5h11.2M818.7 1261.8v11.2M824.9 1261.8v11.2M816.6 1238.7h11.2M816.6 1285.1h11.2M817.8 1255.6v11.2M826.6 1255.6v11.2M817.5 1251.1h11.2M817.5 1295.3h11.2M821.4 1267.0v11.2M824.8 1267.0v11.2M818.4 1261.3h11.2M818.4 1287.6h11.2M821.3 1268.4v11.2M826.7 1268.4v11.2M819.3 1245.7h11.2M819.3 1294.6h11.2M822.3 1263.8v11.2M827.6 1263.8v11.2M819.7 1240.5h11.2M819.7 1271.1h11.2M823.6 1249.7v11.2M826.9 1249.7v11.2M820.7 1259.2h11.2M820.7 1297.0h11.2M823.0 1271.9v11.2M829.5 1271.9v11.2M820.9 1242.9h11.2M820.9 1279.7h11.2M822.5 1255.1v11.2M830.6 1255.1v11.2M821.7 1271.7h11.2M821.7 1312.6h11.2M823.4 1285.9v11.2M831.2 1285.9v11.2M822.7 1246.2h11.2M822.7 1292.9h11.2M826.0 1263.2v11.2M830.6 1263.2v11.2M823.6 1251.7h11.2M823.6 1294.9h11.2M824.8 1267.1v11.2M833.6 1267.1v11.2M824.1 1230.9h11.2M824.1 1277.6h11.2M828.0 1248.0v11.2M831.4 1248.0v11.2M825.2 1271.2h11.2M825.2 1312.4h11.2M828.6 1285.6v11.2M833.0 1285.6v11.2M825.6 1262.5h11.2M825.6 1293.5h11.2M828.2 1271.9v11.2M834.2 1271.9v11.2M826.3 1260.5h11.2M826.3 1288.4h11.2M828.7 1268.5v11.2M835.1 1268.5v11.2M827.4 1241.2h11.2M827.4 1293.7h11.2M830.8 1261.1v11.2M835.2 1261.1v11.2M828.2 1249.8h11.2M828.2 1303.2h11.2M830.9 1270.1v11.2M836.6 1270.1v11.2M829.1 1253.1h11.2M829.1 1289.9h11.2M831.4 1265.4v11.2M838.0 1265.4v11.2M829.2 1242.0h11.2M829.2 1296.2h11.2M833.0 1262.7v11.2M836.6 1262.7v11.2M829.9 1238.0h11.2M829.9 1274.8h11.2M832.7 1250.2v11.2M838.3 1250.2v11.2M831.2 1253.1h11.2M831.2 1283.8h11.2M835.3 1262.4v11.2M838.4 1262.4v11.2M831.6 1259.4h11.2M831.6 1298.3h11.2M835.5 1272.6v11.2M838.8 1272.6v11.2M832.8 1254.0h11.2M832.8 1280.9h11.2M835.5 1261.4v11.2M841.3 1261.4v11.2M833.3 1226.3h11.2M833.3 1280.7h11.2M836.1 1247.1v11.2M841.6 1247.1v11.2M834.0 1258.9h11.2M834.0 1310.5h11.2M836.6 1278.4v11.2M842.7 1278.4v11.2M834.4 1266.8h11.2M834.4 1296.5h11.2M836.6 1275.6v11.2M843.3 1275.6v11.2M835.5 1249.2h11.2M835.5 1285.4h11.2M837.6 1261.2v11.2M844.7 1261.2v11.2M836.5 1256.5h11.2M836.5 1302.3h11.2M840.2 1273.1v11.2M844.0 1273.1v11.2M837.3 1250.3h11.2M837.3 1295.8h11.2M840.3 1266.7v11.2M845.6 1266.7v11.2M837.6 1252.2h11.2M837.6 1281.9h11.2M841.3 1261.0v11.2M845.1 1261.0v11.2M838.2 1247.1h11.2M838.2 1294.7h11.2M841.7 1264.6v11.2M845.9 1264.6v11.2M839.5 1245.1h11.2M839.5 1296.0h11.2M842.5 1264.2v11.2M847.7 1264.2v11.2M839.9 1261.4h11.2M839.9 1302.6h11.2M842.3 1275.8v11.2M848.7 1275.8v11.2M840.7 1243.5h11.2M840.7 1283.9h11.2M843.5 1257.5v11.2M849.0 1257.5v11.2M841.4 1247.6h11.2M841.4 1301.0h11.2M843.7 1267.9v11.2M850.4 1267.9v11.2M842.2 1267.9h11.2M842.2 1313.3h11.2M846.3 1284.3v11.2M849.4 1284.3v11.2M842.6 1249.1h11.2M842.6 1287.9h11.2M843.8 1262.3v11.2M852.6 1262.3v11.2M843.3 1261.4h11.2M843.3 1315.6h11.2M845.7 1282.1v11.2M852.1 1282.1v11.2M844.6 1245.3h11.2M844.6 1285.8h11.2M846.0 1259.3v11.2M854.4 1259.3v11.2M845.3 1270.1h11.2M845.3 1316.9h11.2M847.9 1287.2v11.2M853.8 1287.2v11.2M845.8 1235.5h11.2M845.8 1291.2h11.2M848.5 1256.9v11.2M854.3 1256.9v11.2M846.8 1276.4h11.2M846.8 1304.2h11.2M849.1 1284.3v11.2M855.6 1284.3v11.2M847.6 1257.4h11.2M847.6 1307.5h11.2M850.8 1276.1v11.2M855.5 1276.1v11.2M848.0 1252.1h11.2M848.0 1294.0h11.2M849.1 1266.8v11.2M858.1 1266.8v11.2M848.8 1244.1h11.2M848.8 1273.2h11.2M850.2 1252.6v11.2M858.7 1252.6v11.2M849.5 1259.3h11.2M849.5 1289.2h11.2M851.3 1268.2v11.2M858.8 1268.2v11.2M850.1 1265.2h11.2M850.1 1301.0h11.2M852.6 1276.9v11.2M858.9 1276.9v11.2M851.2 1259.6h11.2M851.2 1297.6h11.2M853.8 1272.4v11.2M859.8 1272.4v11.2M852.1 1272.5h11.2M852.1 1305.0h11.2M853.2 1282.7v11.2M862.1 1282.7v11.2M852.7 1263.6h11.2M852.7 1295.7h11.2M855.9 1273.5v11.2M860.7 1273.5v11.2M853.2 1241.8h11.2M853.2 1270.3h11.2M856.1 1250.0v11.2M861.5 1250.0v11.2M854.2 1266.9h11.2M854.2 1304.0h11.2M858.0 1279.3v11.2M861.7 1279.3v11.2M854.8 1267.1h11.2M854.8 1318.6h11.2M858.9 1286.5v11.2M862.0 1286.5v11.2M855.6 1249.6h11.2M855.6 1297.4h11.2M858.9 1267.2v11.2M863.5 1267.2v11.2M856.0 1247.9h11.2M856.0 1290.0h11.2M857.3 1262.7v11.2M865.9 1262.7v11.2M857.3 1237.2h11.2M857.3 1275.4h11.2M859.1 1250.1v11.2M866.7 1250.1v11.2M858.2 1248.7h11.2M858.2 1287.1h11.2M860.7 1261.7v11.2M866.8 1261.7v11.2M858.5 1265.3h11.2M858.5 1303.3h11.2M860.5 1278.1v11.2M867.6 1278.1v11.2M859.3 1256.1h11.2M859.3 1298.5h11.2M862.8 1271.1v11.2M866.9 1271.1v11.2M860.1 1268.3h11.2M860.1 1304.9h11.2M863.6 1280.5v11.2M867.8 1280.5v11.2M860.8 1266.5h11.2M860.8 1302.6h11.2M862.6 1278.4v11.2M870.2 1278.4v11.2M861.5 1244.7h11.2M861.5 1296.5h11.2M863.1 1264.2v11.2M871.1 1264.2v11.2M862.5 1258.3h11.2M862.5 1291.9h11.2M865.5 1269.0v11.2M870.8 1269.0v11.2M863.2 1250.7h11.2M863.2 1301.9h11.2M865.5 1270.0v11.2M872.2 1270.0v11.2M863.7 1254.0h11.2M863.7 1309.0h11.2M867.1 1275.1v11.2M871.5 1275.1v11.2M864.7 1254.8h11.2M864.7 1303.1h11.2M866.2 1272.6v11.2M874.3 1272.6v11.2M865.5 1251.6h11.2M865.5 1308.2h11.2M868.8 1273.4v11.2M873.4 1273.4v11.2M866.0 1253.4h11.2M866.0 1301.3h11.2M867.4 1271.0v11.2M875.9 1271.0v11.2M866.6 1249.2h11.2M866.6 1291.6h11.2M868.3 1264.1v11.2M876.2 1264.1v11.2M867.8 1251.5h11.2M867.8 1302.0h11.2M870.1 1270.4v11.2M876.8 1270.4v11.2M868.0 1251.0h11.2M868.0 1307.1h11.2M871.3 1272.6v11.2M875.8 1272.6v11.2M869.2 1248.1h11.2M869.2 1302.9h11.2M872.3 1269.1v11.2M877.4 1269.1v11.2M870.0 1250.8h11.2M870.0 1298.0h11.2M873.1 1268.1v11.2M878.2 1268.1v11.2M870.3 1261.5h11.2M870.3 1305.9h11.2M873.9 1277.5v11.2M878.0 1277.5v11.2M871.4 1261.4h11.2M871.4 1295.9h11.2M875.1 1272.5v11.2M878.8 1272.5v11.2M872.4 1262.0h11.2M872.4 1316.5h11.2M873.6 1282.9v11.2M882.4 1282.9v11.2M872.7 1262.3h11.2M872.7 1298.4h11.2M874.1 1274.2v11.2M882.5 1274.2v11.2M873.6 1261.0h11.2M873.6 1302.7h11.2M875.9 1275.6v11.2M882.6 1275.6v11.2M874.2 1268.5h11.2M874.2 1312.0h11.2M876.0 1284.0v11.2M883.7 1284.0v11.2M875.0 1273.7h11.2M875.0 1312.4h11.2M878.7 1286.9v11.2M882.5 1286.9v11.2M876.0 1252.0h11.2M876.0 1295.1h11.2M879.2 1267.3v11.2M883.9 1267.3v11.2M876.6 1264.5h11.2M876.6 1304.8h11.2M880.3 1278.5v11.2M884.0 1278.5v11.2M877.1 1252.6h11.2M877.1 1306.7h11.2M879.4 1273.2v11.2M886.0 1273.2v11.2M878.2 1259.7h11.2M878.2 1305.9h11.2M881.2 1276.5v11.2M886.4 1276.5v11.2M878.8 1272.4h11.2M878.8 1309.6h11.2M881.2 1284.8v11.2M887.7 1284.8v11.2M879.4 1252.7h11.2M879.4 1301.8h11.2M880.9 1270.9v11.2M889.1 1270.9v11.2M880.3 1274.0h11.2M880.3 1331.3h11.2M881.8 1296.2v11.2M890.1 1296.2v11.2M881.2 1261.8h11.2M881.2 1306.0h11.2M884.6 1277.6v11.2M888.9 1277.6v11.2M881.4 1261.2h11.2M881.4 1302.0h11.2M885.2 1275.4v11.2M888.9 1275.4v11.2M882.3 1280.3h11.2M882.3 1318.3h11.2M885.3 1293.1v11.2M890.4 1293.1v11.2M883.1 1278.5h11.2M883.1 1311.3h11.2M885.4 1288.8v11.2M892.1 1288.8v11.2M883.8 1258.3h11.2M883.8 1314.6h11.2M887.6 1280.0v11.2M891.2 1280.0v11.2M884.8 1263.1h11.2M884.8 1307.8h11.2M886.5 1279.2v11.2M894.3 1279.2v11.2M885.2 1281.5h11.2M885.2 1318.9h11.2M886.9 1294.0v11.2M894.6 1294.0v11.2M886.6 1262.0h11.2M886.6 1322.6h11.2M888.7 1285.8v11.2M895.6 1285.8v11.2M887.2 1259.0h11.2M887.2 1319.5h11.2M888.7 1282.7v11.2M896.9 1282.7v11.2M887.7 1264.0h11.2M887.7 1325.3h11.2M890.5 1288.1v11.2M896.0 1288.1v11.2M888.2 1272.4h11.2M888.2 1318.1h11.2M891.1 1289.0v11.2M896.5 1289.0v11.2M888.9 1266.2h11.2M888.9 1319.6h11.2M890.7 1286.5v11.2M898.3 1286.5v11.2M890.2 1263.4h11.2M890.2 1317.9h11.2M893.8 1284.2v11.2M897.7 1284.2v11.2M890.8 1261.9h11.2M890.8 1300.6h11.2M893.9 1275.1v11.2M898.9 1275.1v11.2M891.4 1261.1h11.2M891.4 1308.9h11.2M894.7 1278.7v11.2M899.3 1278.7v11.2M892.1 1272.4h11.2M892.1 1313.8h11.2M895.5 1286.9v11.2M899.8 1286.9v11.2M892.6 1261.1h11.2M892.6 1304.9h11.2M895.1 1276.7v11.2M901.4 1276.7v11.2M893.9 1258.8h11.2M893.9 1302.7h11.2M895.2 1274.5v11.2M903.8 1274.5v11.2M894.2 1259.7h11.2M894.2 1315.6h11.2M897.6 1281.2v11.2M902.1 1281.2v11.2M895.0 1262.9h11.2M895.0 1321.9h11.2M897.7 1285.9v11.2M903.5 1285.9v11.2M895.7 1267.6h11.2M895.7 1296.8h11.2M898.2 1276.2v11.2M904.5 1276.2v11.2M896.7 1257.8h11.2M896.7 1303.9h11.2M898.6 1274.5v11.2M906.1 1274.5v11.2M897.3 1270.4h11.2M897.3 1306.9h11.2M898.9 1282.5v11.2M906.9 1282.5v11.2M897.9 1263.1h11.2M897.9 1311.5h11.2M900.2 1281.0v11.2M906.8 1281.0v11.2M899.2 1253.9h11.2M899.2 1300.5h11.2M900.6 1270.9v11.2M909.0 1270.9v11.2M899.4 1277.9h11.2M899.4 1309.3h11.2M900.7 1287.5v11.2M909.4 1287.5v11.2M900.2 1275.3h11.2M900.2 1306.9h11.2M903.1 1285.0v11.2M908.6 1285.0v11.2M901.4 1262.7h11.2M901.4 1314.3h11.2M902.7 1282.2v11.2M911.2 1282.2v11.2M901.9 1268.7h11.2M901.9 1331.8h11.2M905.8 1293.7v11.2M909.2 1293.7v11.2M903.0 1247.0h11.2M903.0 1304.1h11.2M905.3 1269.1v11.2M911.9 1269.1v11.2M903.7 1272.2h11.2M903.7 1314.3h11.2M907.8 1287.0v11.2M910.8 1287.0v11.2M904.2 1282.4h11.2M904.2 1316.4h11.2M907.8 1293.3v11.2M911.8 1293.3v11.2M904.7 1262.5h11.2M904.7 1298.7h11.2M907.5 1274.5v11.2M913.0 1274.5v11.2M905.5 1253.0h11.2M905.5 1310.9h11.2M909.5 1275.5v11.2M912.7 1275.5v11.2M906.5 1264.1h11.2M906.5 1305.4h11.2M909.4 1278.5v11.2M914.9 1278.5v11.2M907.0 1253.4h11.2M907.0 1309.5h11.2M910.3 1275.0v11.2M914.9 1275.0v11.2M907.9 1269.5h11.2M907.9 1321.7h11.2M911.8 1289.2v11.2M915.2 1289.2v11.2M908.4 1260.4h11.2M908.4 1317.8h11.2M910.3 1282.7v11.2M917.6 1282.7v11.2M909.4 1262.2h11.2M909.4 1308.9h11.2M913.4 1279.3v11.2M916.7 1279.3v11.2M910.5 1262.8h11.2M910.5 1304.2h11.2M911.8 1277.3v11.2M920.3 1277.3v11.2M911.0 1242.2h11.2M911.0 1298.6h11.2M913.8 1264.0v11.2M919.3 1264.0v11.2M911.5 1276.6h11.2M911.5 1326.1h11.2M913.8 1295.0v11.2M920.4 1295.0v11.2M912.1 1269.2h11.2M912.1 1307.0h11.2M915.5 1281.9v11.2M919.9 1281.9v11.2M913.2 1259.5h11.2M913.2 1308.3h11.2M915.4 1277.6v11.2M922.2 1277.6v11.2M913.9 1254.0h11.2M913.9 1293.6h11.2M917.2 1267.6v11.2M921.8 1267.6v11.2M914.8 1283.6h11.2M914.8 1334.1h11.2M917.6 1302.5v11.2M923.2 1302.5v11.2M915.0 1271.1h11.2M915.0 1315.4h11.2M917.5 1287.0v11.2M923.7 1287.0v11.2M915.8 1279.9h11.2M915.8 1327.4h11.2M917.1 1297.3v11.2M925.8 1297.3v11.2M916.9 1276.5h11.2M916.9 1306.9h11.2M918.1 1285.7v11.2M927.0 1285.7v11.2M917.7 1269.7h11.2M917.7 1328.5h11.2M921.1 1292.6v11.2M925.5 1292.6v11.2M918.5 1269.9h11.2M918.5 1331.4h11.2M921.1 1294.1v11.2M927.1 1294.1v11.2M919.4 1273.8h11.2M919.4 1313.1h11.2M922.3 1287.2v11.2M927.6 1287.2v11.2M920.0 1279.5h11.2M920.0 1318.4h11.2M922.3 1292.8v11.2M929.0 1292.8v11.2M920.7 1256.1h11.2M920.7 1309.1h11.2M923.2 1276.2v11.2M929.4 1276.2v11.2M921.7 1279.9h11.2M921.7 1310.3h11.2M923.2 1289.0v11.2M931.4 1289.0v11.2M922.0 1268.6h11.2M922.0 1329.8h11.2M925.5 1292.7v11.2M929.6 1292.7v11.2M922.6 1267.4h11.2M922.6 1314.6h11.2M925.4 1284.7v11.2M931.1 1284.7v11.2M923.4 1266.3h11.2M923.4 1322.2h11.2M924.9 1287.8v11.2M933.1 1287.8v11.2M924.4 1252.3h11.2M924.4 1310.3h11.2M928.5 1274.8v11.2M931.5 1274.8v11.2M924.8 1259.2h11.2M924.8 1298.3h11.2M927.7 1272.6v11.2M933.1 1272.6v11.2M925.7 1288.9h11.2M925.7 1325.5h11.2M927.3 1301.0v11.2M935.4 1301.0v11.2M926.4 1277.2h11.2M926.4 1313.2h11.2M929.5 1289.0v11.2M934.6 1289.0v11.2M927.0 1254.2h11.2M927.0 1315.5h11.2M929.4 1278.3v11.2M935.9 1278.3v11.2M928.3 1278.3h11.2M928.3 1314.2h11.2M930.7 1290.1v11.2M937.1 1290.1v11.2M929.0 1267.8h11.2M929.0 1314.2h11.2M932.5 1284.7v11.2M936.8 1284.7v11.2M929.4 1265.6h11.2M929.4 1312.4h11.2M930.8 1282.7v11.2M939.1 1282.7v11.2M930.0 1273.8h11.2M930.0 1308.2h11.2M933.9 1284.9v11.2M937.3 1284.9v11.2M931.1 1282.4h11.2M931.1 1313.1h11.2M933.7 1291.7v11.2M939.8 1291.7v11.2M931.6 1279.1h11.2M931.6 1337.5h11.2M934.7 1301.8v11.2M939.6 1301.8v11.2M932.6 1269.4h11.2M932.6 1323.6h11.2M934.5 1290.1v11.2M941.9 1290.1v11.2M933.2 1272.5h11.2M933.2 1334.5h11.2M935.1 1297.0v11.2M942.5 1297.0v11.2M934.3 1265.2h11.2M934.3 1309.8h11.2M937.4 1281.2v11.2M942.4 1281.2v11.2M737.5 1231.5h11.2M737.5 1269.1h11.2M738.9 1244.1v11.2M747.4 1244.1v11.2M741.8 1243.8h11.2M741.8 1272.0h11.2M745.5 1251.9v11.2M749.3 1251.9v11.2M743.8 1242.8h11.2M743.8 1266.8h11.2M746.8 1248.8v11.2M752.0 1248.8v11.2M748.4 1237.2h11.2M748.4 1267.6h11.2M752.4 1246.3v11.2M755.6 1246.3v11.2M753.8 1267.2h11.2M753.8 1300.9h11.2M756.3 1278.0v11.2M762.5 1278.0v11.2M754.7 1247.2h11.2M754.7 1271.8h11.2M757.2 1253.5v11.2M763.4 1253.5v11.2M760.4 1251.8h11.2M760.4 1280.2h11.2M764.4 1260.0v11.2M767.6 1260.0v11.2M762.9 1264.0h11.2M762.9 1287.2h11.2M766.7 1269.6v11.2M770.3 1269.6v11.2M766.9 1220.6h11.2M766.9 1259.1h11.2M768.4 1233.7v11.2M776.5 1233.7v11.2M934.5 1275.4h11.2M934.5 1324.2h11.2M936.2 1293.5v11.2M944.1 1293.5v11.2M937.0 1263.6h11.2M937.0 1314.1h11.2M938.3 1282.5v11.2M946.8 1282.5v11.2M938.2 1256.6h11.2M938.2 1316.2h11.2M941.9 1279.9v11.2M945.8 1279.9v11.2M942.0 1268.4h11.2M942.0 1318.7h11.2M943.5 1287.2v11.2M951.7 1287.2v11.2M942.7 1282.3h11.2M942.7 1321.4h11.2M945.8 1295.7v11.2M950.7 1295.7v11.2" fill="none" stroke="#231f20" stroke-width="1.4"/>
</g>
<path d="M191.3 1056.9H220.7M206 1056.9V1082.9" stroke="#231f20" stroke-width="1.9" fill="none"/><path d="M191.3 1051.1000000000001v11.6M220.7 1051.1000000000001v11.6" stroke="#231f20" stroke-width="1.2" fill="none"/><path d="M200 1081.5h12.2l-6.1 9.3z" fill="#231f20"/>
<path d="M150.3 725.1v-3.4M150.3 0.9v3.4M191.7 725.1v-3.4M191.7 0.9v3.4M233.1 725.1v-3.4M233.1 0.9v3.4M274.5 725.1v-6.6M274.5 0.9v6.6M315.9 725.1v-3.4M315.9 0.9v3.4M357.3 725.1v-3.4M357.3 0.9v3.4M398.7 725.1v-3.4M398.7 0.9v3.4M440.1 725.1v-3.4M440.1 0.9v3.4M481.5 725.1v-6.6M481.5 0.9v6.6M522.9 725.1v-3.4M522.9 0.9v3.4M564.3 725.1v-3.4M564.3 0.9v3.4M605.7 725.1v-3.4M605.7 0.9v3.4M647.1 725.1v-3.4M647.1 0.9v3.4M688.5 725.1v-6.6M688.5 0.9v6.6M729.9 725.1v-3.4M729.9 0.9v3.4M771.3 725.1v-3.4M771.3 0.9v3.4M812.7 725.1v-3.4M812.7 0.9v3.4M854.1 725.1v-3.4M854.1 0.9v3.4M895.5 725.1v-6.6M895.5 0.9v6.6M936.9 725.1v-3.4M936.9 0.9v3.4M109.1 702.8h3.4M999.0 702.8h-3.4M109.1 680.6h3.4M999.0 680.6h-3.4M109.1 658.3h3.4M999.0 658.3h-3.4M109.1 636.0h3.4M999.0 636.0h-3.4M109.1 613.7h6.6M999.0 613.7h-6.6M109.1 591.4h3.4M999.0 591.4h-3.4M109.1 569.1h3.4M999.0 569.1h-3.4M109.1 546.8h3.4M999.0 546.8h-3.4M109.1 524.6h3.4M999.0 524.6h-3.4M109.1 502.3h6.6M999.0 502.3h-6.6M109.1 480.0h3.4M999.0 480.0h-3.4M109.1 457.7h3.4M999.0 457.7h-3.4M109.1 435.4h3.4M999.0 435.4h-3.4M109.1 413.1h3.4M999.0 413.1h-3.4M109.1 390.9h6.6M999.0 390.9h-6.6M109.1 368.6h3.4M999.0 368.6h-3.4M109.1 346.3h3.4M999.0 346.3h-3.4M109.1 324.0h3.4M999.0 324.0h-3.4M109.1 301.7h3.4M999.0 301.7h-3.4M109.1 279.4h6.6M999.0 279.4h-6.6M109.1 257.2h3.4M999.0 257.2h-3.4M109.1 234.9h3.4M999.0 234.9h-3.4M109.1 212.6h3.4M999.0 212.6h-3.4M109.1 190.3h3.4M999.0 190.3h-3.4M109.1 168.0h6.6M999.0 168.0h-6.6M109.1 145.7h3.4M999.0 145.7h-3.4M109.1 123.5h3.4M999.0 123.5h-3.4M109.1 101.2h3.4M999.0 101.2h-3.4M109.1 78.9h3.4M999.0 78.9h-3.4M109.1 56.6h6.6M999.0 56.6h-6.6M109.1 34.3h3.4M999.0 34.3h-3.4M109.1 12.0h3.4M999.0 12.0h-3.4" stroke="#231f20" stroke-width="1.3" fill="none"/><rect x="109.1" y="0.9" width="889.9" height="724.2" fill="none" stroke="#231f20" stroke-width="1.9"/><text x="277.3" y="761.4" text-anchor="middle" class="tk">15</text><text x="484.3" y="761.4" text-anchor="middle" class="tk">16</text><text x="691.3" y="761.4" text-anchor="middle" class="tk">17</text><text x="898.3" y="761.4" text-anchor="middle" class="tk">18</text><text x="95.1" y="733.3" text-anchor="end" class="tk">−4</text><text x="95.1" y="621.9" text-anchor="end" class="tk">−3</text><text x="95.1" y="510.5" text-anchor="end" class="tk">−2</text><text x="95.1" y="399.1" text-anchor="end" class="tk">−1</text><text x="95.1" y="287.6" text-anchor="end" class="tk">0</text><text x="95.1" y="176.2" text-anchor="end" class="tk">1</text><text x="95.1" y="64.8" text-anchor="end" class="tk">2</text>
<path d="M150.3 1562.7v-3.4M150.3 861.4v3.4M191.7 1562.7v-3.4M191.7 861.4v3.4M233.1 1562.7v-3.4M233.1 861.4v3.4M274.5 1562.7v-6.6M274.5 861.4v6.6M315.9 1562.7v-3.4M315.9 861.4v3.4M357.3 1562.7v-3.4M357.3 861.4v3.4M398.7 1562.7v-3.4M398.7 861.4v3.4M440.1 1562.7v-3.4M440.1 861.4v3.4M481.5 1562.7v-6.6M481.5 861.4v6.6M522.9 1562.7v-3.4M522.9 861.4v3.4M564.3 1562.7v-3.4M564.3 861.4v3.4M605.7 1562.7v-3.4M605.7 861.4v3.4M647.1 1562.7v-3.4M647.1 861.4v3.4M688.5 1562.7v-6.6M688.5 861.4v6.6M729.9 1562.7v-3.4M729.9 861.4v3.4M771.3 1562.7v-3.4M771.3 861.4v3.4M812.7 1562.7v-3.4M812.7 861.4v3.4M854.1 1562.7v-3.4M854.1 861.4v3.4M895.5 1562.7v-6.6M895.5 861.4v6.6M936.9 1562.7v-3.4M936.9 861.4v3.4M109.1 1541.1h3.4M999.0 1541.1h-3.4M109.1 1519.5h3.4M999.0 1519.5h-3.4M109.1 1498.0h3.4M999.0 1498.0h-3.4M109.1 1476.4h3.4M999.0 1476.4h-3.4M109.1 1454.8h6.6M999.0 1454.8h-6.6M109.1 1433.2h3.4M999.0 1433.2h-3.4M109.1 1411.7h3.4M999.0 1411.7h-3.4M109.1 1390.1h3.4M999.0 1390.1h-3.4M109.1 1368.5h3.4M999.0 1368.5h-3.4M109.1 1346.9h6.6M999.0 1346.9h-6.6M109.1 1325.4h3.4M999.0 1325.4h-3.4M109.1 1303.8h3.4M999.0 1303.8h-3.4M109.1 1282.2h3.4M999.0 1282.2h-3.4M109.1 1260.6h3.4M999.0 1260.6h-3.4M109.1 1239.0h6.6M999.0 1239.0h-6.6M109.1 1217.5h3.4M999.0 1217.5h-3.4M109.1 1195.9h3.4M999.0 1195.9h-3.4M109.1 1174.3h3.4M999.0 1174.3h-3.4M109.1 1152.7h3.4M999.0 1152.7h-3.4M109.1 1131.2h6.6M999.0 1131.2h-6.6M109.1 1109.6h3.4M999.0 1109.6h-3.4M109.1 1088.0h3.4M999.0 1088.0h-3.4M109.1 1066.4h3.4M999.0 1066.4h-3.4M109.1 1044.9h3.4M999.0 1044.9h-3.4M109.1 1023.3h6.6M999.0 1023.3h-6.6M109.1 1001.7h3.4M999.0 1001.7h-3.4M109.1 980.1h3.4M999.0 980.1h-3.4M109.1 958.6h3.4M999.0 958.6h-3.4M109.1 937.0h3.4M999.0 937.0h-3.4M109.1 915.4h6.6M999.0 915.4h-6.6M109.1 893.8h3.4M999.0 893.8h-3.4M109.1 872.2h3.4M999.0 872.2h-3.4" stroke="#231f20" stroke-width="1.3" fill="none"/><rect x="109.1" y="861.4" width="889.9" height="701.3000000000001" fill="none" stroke="#231f20" stroke-width="1.9"/><text x="277.3" y="1599.0" text-anchor="middle" class="tk">15</text><text x="484.3" y="1599.0" text-anchor="middle" class="tk">16</text><text x="691.3" y="1599.0" text-anchor="middle" class="tk">17</text><text x="898.3" y="1599.0" text-anchor="middle" class="tk">18</text><text x="95.1" y="1570.9" text-anchor="end" class="tk">−4</text><text x="95.1" y="1463.0" text-anchor="end" class="tk">−3</text><text x="95.1" y="1355.1" text-anchor="end" class="tk">−2</text><text x="95.1" y="1247.2" text-anchor="end" class="tk">−1</text><text x="95.1" y="1139.4" text-anchor="end" class="tk">0</text><text x="95.1" y="1031.5" text-anchor="end" class="tk">1</text><text x="95.1" y="923.6" text-anchor="end" class="tk">2</text>
<text y="808" class="ax"><tspan x="471.2" textLength="40.8" lengthAdjust="spacingAndGlyphs">log</tspan><tspan x="525.5" font-style="italic" textLength="18" lengthAdjust="spacingAndGlyphs">ν</tspan><tspan x="554.6" dy="2" font-size="40.4" class="br" textLength="9" lengthAdjust="spacingAndGlyphs">[</tspan><tspan x="575.6" dy="-2" textLength="37.7" lengthAdjust="spacingAndGlyphs">Hz</tspan><tspan x="625.8" dy="2" font-size="40.4" class="br" textLength="9" lengthAdjust="spacingAndGlyphs">]</tspan></text>
<text y="1645.3" class="ax"><tspan x="471.2" textLength="40.8" lengthAdjust="spacingAndGlyphs">log</tspan><tspan x="525.5" font-style="italic" textLength="18" lengthAdjust="spacingAndGlyphs">ν</tspan><tspan x="554.6" dy="2" font-size="40.4" class="br" textLength="9" lengthAdjust="spacingAndGlyphs">[</tspan><tspan x="575.6" dy="-2" textLength="37.7" lengthAdjust="spacingAndGlyphs">Hz</tspan><tspan x="625.8" dy="2" font-size="40.4" class="br" textLength="9" lengthAdjust="spacingAndGlyphs">]</tspan></text>
<g transform="translate(25.7 462) rotate(-90)"><text y="0" class="ax"><tspan x="0" textLength="41.5" lengthAdjust="spacingAndGlyphs">log</tspan><tspan x="56" font-style="italic" textLength="25" lengthAdjust="spacingAndGlyphs">F</tspan><tspan x="78" dy="8.5" font-size="25" font-style="italic" textLength="12.5" lengthAdjust="spacingAndGlyphs">ν</tspan><tspan x="101.8" dy="-6.5" font-size="40.4" class="br" textLength="9" lengthAdjust="spacingAndGlyphs">[</tspan><tspan x="121.5" dy="-2" font-style="italic">μ</tspan><tspan x="139" class="br" textLength="36" lengthAdjust="spacingAndGlyphs">Jy</tspan><tspan x="188.1" dy="2" font-size="40.4" class="br" textLength="9" lengthAdjust="spacingAndGlyphs">]</tspan></text></g>
<g transform="translate(25.7 1309.8) rotate(-90)"><text y="0" class="ax"><tspan x="0" textLength="41.5" lengthAdjust="spacingAndGlyphs">log</tspan><tspan x="56" font-style="italic" textLength="25" lengthAdjust="spacingAndGlyphs">F</tspan><tspan x="78" dy="8.5" font-size="25" font-style="italic" textLength="12.5" lengthAdjust="spacingAndGlyphs">ν</tspan><tspan x="101.8" dy="-6.5" font-size="40.4" class="br" textLength="9" lengthAdjust="spacingAndGlyphs">[</tspan><tspan x="121.5" dy="-2" font-style="italic">μ</tspan><tspan x="139" class="br" textLength="36" lengthAdjust="spacingAndGlyphs">Jy</tspan><tspan x="188.1" dy="2" font-size="40.4" class="br" textLength="9" lengthAdjust="spacingAndGlyphs">]</tspan></text></g>
<text class="an" y="167.6"><tspan x="150.6" textLength="79.5" lengthAdjust="spacingAndGlyphs">Sloan</tspan><tspan x="243" font-style="italic">r</tspan><tspan x="256.5" dy="-9" font-size="26">′</tspan></text>
<text class="an" x="172" y="211.8" textLength="71" lengthAdjust="spacingAndGlyphs">band</text>
<text class="an" y="167.5"><tspan x="730.5" font-style="italic" textLength="132.5" lengthAdjust="spacing">Chandra</tspan><tspan x="864.6" dy="7.8" font-size="49" class="br">/</tspan></text><text class="an" x="751.3" y="212.7" textLength="124" lengthAdjust="spacing">ACIS−S</text>
<text class="an" y="1097.5"><tspan x="730.5" font-style="italic" textLength="132.5" lengthAdjust="spacing">Chandra</tspan><tspan x="864.6" dy="7.8" font-size="49" class="br">/</tspan></text><text class="an" x="751.3" y="1146.9" textLength="124" lengthAdjust="spacing">ACIS−S</text>
</svg>
</body></html>
